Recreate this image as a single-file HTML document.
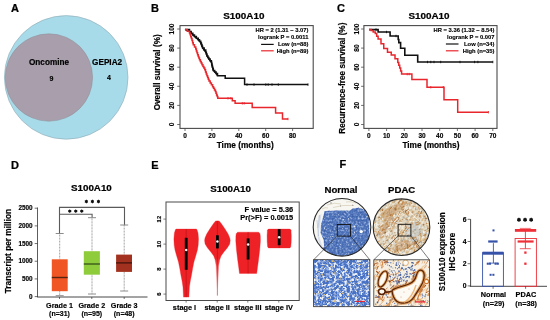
<!DOCTYPE html><html><head><meta charset="utf-8"><style>html,body{margin:0;padding:0;background:#fff;width:550px;height:320px;overflow:hidden}svg{display:block;will-change:transform;font-family:"Liberation Sans",sans-serif}</style></head><body><svg width="550" height="320" viewBox="0 0 550 320" font-family="Liberation Sans, sans-serif">
<rect width="550" height="320" fill="#fff"/>
<text x="11.00" y="12.00" font-size="11" text-anchor="start" font-weight="bold" fill="#000" stroke="#000" stroke-width="0.242" >A</text>
<circle cx="66.2" cy="77.4" r="61.8" fill="#a8dbe9" stroke="#8fa9b3" stroke-width="0.6"/>
<circle cx="48.9" cy="77.5" r="43.7" fill="#a99fac" stroke="#8d8a95" stroke-width="0.5"/>
<text x="49.00" y="64.70" font-size="8.2" text-anchor="middle" font-weight="bold" fill="#000" stroke="#000" stroke-width="0.180" >Oncomine</text>
<text x="51.40" y="80.80" font-size="7" text-anchor="middle" font-weight="bold" fill="#000" stroke="#000" stroke-width="0.154" >9</text>
<text x="107.10" y="65.00" font-size="8.2" text-anchor="middle" font-weight="bold" fill="#000" stroke="#000" stroke-width="0.180" >GEPIA2</text>
<text x="108.90" y="80.40" font-size="7" text-anchor="middle" font-weight="bold" fill="#000" stroke="#000" stroke-width="0.154" >4</text>
<text x="151.00" y="12.00" font-size="11" text-anchor="start" font-weight="bold" fill="#000" stroke="#000" stroke-width="0.242" >B</text>
<text x="243.80" y="19.30" font-size="9.9" text-anchor="middle" font-weight="bold" fill="#000" stroke="#000" stroke-width="0.218" >S100A10</text>
<rect x="180" y="25.6" width="133.2" height="102.80000000000001" fill="none" stroke="#4a4a4a" stroke-width="1.1"/>
<line x1="177.2" y1="124.50" x2="180" y2="124.50" stroke="#4a4a4a" stroke-width="0.8"/>
<text transform="translate(174.40,124.50) rotate(-90)" font-size="6.5" text-anchor="middle" font-weight="bold" fill="#000" stroke="#000" stroke-width="0.143">0</text>
<line x1="177.2" y1="105.40" x2="180" y2="105.40" stroke="#4a4a4a" stroke-width="0.8"/>
<text transform="translate(174.40,105.40) rotate(-90)" font-size="6.5" text-anchor="middle" font-weight="bold" fill="#000" stroke="#000" stroke-width="0.143">20</text>
<line x1="177.2" y1="86.30" x2="180" y2="86.30" stroke="#4a4a4a" stroke-width="0.8"/>
<text transform="translate(174.40,86.30) rotate(-90)" font-size="6.5" text-anchor="middle" font-weight="bold" fill="#000" stroke="#000" stroke-width="0.143">40</text>
<line x1="177.2" y1="67.20" x2="180" y2="67.20" stroke="#4a4a4a" stroke-width="0.8"/>
<text transform="translate(174.40,67.20) rotate(-90)" font-size="6.5" text-anchor="middle" font-weight="bold" fill="#000" stroke="#000" stroke-width="0.143">60</text>
<line x1="177.2" y1="48.10" x2="180" y2="48.10" stroke="#4a4a4a" stroke-width="0.8"/>
<text transform="translate(174.40,48.10) rotate(-90)" font-size="6.5" text-anchor="middle" font-weight="bold" fill="#000" stroke="#000" stroke-width="0.143">80</text>
<line x1="177.2" y1="29.00" x2="180" y2="29.00" stroke="#4a4a4a" stroke-width="0.8"/>
<text transform="translate(174.40,29.00) rotate(-90)" font-size="6.5" text-anchor="middle" font-weight="bold" fill="#000" stroke="#000" stroke-width="0.143">100</text>
<line x1="185.00" y1="128.4" x2="185.00" y2="131.0" stroke="#4a4a4a" stroke-width="0.8"/>
<text x="185.00" y="138.00" font-size="6.5" text-anchor="middle" font-weight="bold" fill="#000" stroke="#000" stroke-width="0.143" >0</text>
<line x1="211.90" y1="128.4" x2="211.90" y2="131.0" stroke="#4a4a4a" stroke-width="0.8"/>
<text x="211.90" y="138.00" font-size="6.5" text-anchor="middle" font-weight="bold" fill="#000" stroke="#000" stroke-width="0.143" >20</text>
<line x1="238.80" y1="128.4" x2="238.80" y2="131.0" stroke="#4a4a4a" stroke-width="0.8"/>
<text x="238.80" y="138.00" font-size="6.5" text-anchor="middle" font-weight="bold" fill="#000" stroke="#000" stroke-width="0.143" >40</text>
<line x1="265.70" y1="128.4" x2="265.70" y2="131.0" stroke="#4a4a4a" stroke-width="0.8"/>
<text x="265.70" y="138.00" font-size="6.5" text-anchor="middle" font-weight="bold" fill="#000" stroke="#000" stroke-width="0.143" >60</text>
<line x1="292.60" y1="128.4" x2="292.60" y2="131.0" stroke="#4a4a4a" stroke-width="0.8"/>
<text x="292.60" y="138.00" font-size="6.5" text-anchor="middle" font-weight="bold" fill="#000" stroke="#000" stroke-width="0.143" >80</text>
<text transform="translate(160.40,72.35) rotate(-90)" font-size="8.2" text-anchor="middle" font-weight="bold" fill="#000" stroke="#000" stroke-width="0.180">Overall survival (%)</text>
<text x="245.20" y="148.20" font-size="8.3" text-anchor="middle" font-weight="bold" fill="#000" stroke="#000" stroke-width="0.183" >Time (months)</text>
<text x="308.40" y="31.80" font-size="5.8" text-anchor="end" font-weight="bold" fill="#000" stroke="#000" stroke-width="0.128" >HR = 2 (1.31 − 3.07)</text>
<text x="308.40" y="38.80" font-size="5.8" text-anchor="end" font-weight="bold" fill="#000" stroke="#000" stroke-width="0.128" >logrank P = 0.0011</text>
<line x1="261.1" y1="44.4" x2="273.7" y2="44.4" stroke="#111" stroke-width="1.2"/>
<text x="308.40" y="45.70" font-size="5.8" text-anchor="end" font-weight="bold" fill="#000" stroke="#000" stroke-width="0.128" >Low (n=88)</text>
<line x1="261.1" y1="50.8" x2="273.7" y2="50.8" stroke="#e8262c" stroke-width="1.2"/>
<text x="308.40" y="52.50" font-size="5.8" text-anchor="end" font-weight="bold" fill="#000" stroke="#000" stroke-width="0.128" >High (n=89)</text>
<path d="M185.00,29.40 L189.50,29.40 L189.50,31.60 L191.17,31.60 L191.17,33.27 L192.83,33.27 L192.83,34.93 L194.50,34.93 L194.50,36.60 L196.38,36.60 L196.38,38.17 L198.25,38.17 L198.25,39.75 L199.50,39.75 L199.50,41.33 L200.75,41.33 L200.75,42.90 L201.37,42.90 L201.37,44.57 L201.98,44.57 L201.98,46.23 L202.60,46.23 L202.60,47.90 L204.18,47.90 L204.18,50.08 L205.75,50.08 L205.75,52.25 L206.38,52.25 L206.38,54.12 L207.00,54.12 L207.00,56.00 L207.95,56.00 L207.95,57.55 L208.90,57.55 L208.90,59.10 L210.15,59.10 L210.15,60.67 L211.40,60.67 L211.40,62.25 L211.70,62.25 L211.70,63.92 L212.00,63.92 L212.00,65.60 L212.43,65.60 L212.43,67.23 L212.87,67.23 L212.87,68.87 L213.30,68.87 L213.30,70.50 L214.70,70.50 L214.70,71.95 L216.10,71.95 L216.10,73.40 L217.50,73.40 L217.50,75.75 L225.20,75.75 L225.20,78.30 L244.60,78.30 L244.60,84.60 L308.00,84.60" fill="none" stroke="#111" stroke-width="1.5" stroke-linejoin="miter"/>
<line x1="247.00" y1="83.40" x2="247.00" y2="85.80" stroke="#111" stroke-width="0.9"/>
<line x1="254.00" y1="83.40" x2="254.00" y2="85.80" stroke="#111" stroke-width="0.9"/>
<line x1="265.80" y1="83.40" x2="265.80" y2="85.80" stroke="#111" stroke-width="0.9"/>
<line x1="268.20" y1="83.40" x2="268.20" y2="85.80" stroke="#111" stroke-width="0.9"/>
<line x1="272.00" y1="83.40" x2="272.00" y2="85.80" stroke="#111" stroke-width="0.9"/>
<line x1="278.30" y1="83.40" x2="278.30" y2="85.80" stroke="#111" stroke-width="0.9"/>
<line x1="308.00" y1="83.40" x2="308.00" y2="85.80" stroke="#111" stroke-width="0.9"/>
<polyline points="185,29.4 189.5,31.6 194.5,36.6 198.25,39.75 200.75,42.9 202.6,47.9 205.75,52.25 207,56 208.9,59.1 211.4,62.25 212,65.6 213.3,70.5 216.1,73.4 217.5,75.75" fill="none" stroke="#111" stroke-width="1.4"/>
<path d="M185.00,29.40 L187.25,29.40 L187.25,31.15 L189.50,31.15 L189.50,32.90 L190.13,32.90 L190.13,34.77 L190.77,34.77 L190.77,36.63 L191.40,36.63 L191.40,38.50 L192.02,38.50 L192.02,40.58 L192.63,40.58 L192.63,42.67 L193.25,42.67 L193.25,44.75 L194.50,44.75 L194.50,46.92 L195.75,46.92 L195.75,49.10 L196.37,49.10 L196.37,50.98 L196.98,50.98 L196.98,52.87 L197.60,52.87 L197.60,54.75 L198.23,54.75 L198.23,56.42 L198.87,56.42 L198.87,58.08 L199.50,58.08 L199.50,59.75 L200.33,59.75 L200.33,61.42 L201.17,61.42 L201.17,63.08 L202.00,63.08 L202.00,64.75 L202.93,64.75 L202.93,66.43 L203.87,66.43 L203.87,68.12 L204.80,68.12 L204.80,69.80 L205.53,69.80 L205.53,71.95 L206.25,71.95 L206.25,74.10 L206.94,74.10 L206.94,75.85 L207.62,75.85 L207.62,77.60 L208.31,77.60 L208.31,79.35 L209.00,79.35 L209.00,81.10 L210.20,81.10 L210.20,82.97 L211.40,82.97 L211.40,84.83 L212.60,84.83 L212.60,86.70 L213.53,86.70 L213.53,88.33 L214.47,88.33 L214.47,89.97 L215.40,89.97 L215.40,91.60 L216.00,91.60 L216.00,93.26 L216.60,93.26 L216.60,94.92 L217.20,94.92 L217.20,96.59 L217.80,96.59 L217.80,98.25 L232.30,98.25 L232.30,100.80 L235.10,100.80 L235.10,103.30 L252.20,103.30 L252.20,107.50 L275.60,107.50 L275.60,112.90 L282.50,112.90 L282.50,119.00 L288.00,119.00" fill="none" stroke="#e8262c" stroke-width="1.5" stroke-linejoin="miter"/>
<line x1="228.00" y1="97.05" x2="228.00" y2="99.45" stroke="#e8262c" stroke-width="0.9"/>
<line x1="230.80" y1="97.05" x2="230.80" y2="99.45" stroke="#e8262c" stroke-width="0.9"/>
<line x1="242.30" y1="102.10" x2="242.30" y2="104.50" stroke="#e8262c" stroke-width="0.9"/>
<line x1="244.20" y1="102.10" x2="244.20" y2="104.50" stroke="#e8262c" stroke-width="0.9"/>
<line x1="288.00" y1="117.80" x2="288.00" y2="120.20" stroke="#e8262c" stroke-width="0.9"/>
<text x="337.00" y="12.00" font-size="11" text-anchor="start" font-weight="bold" fill="#000" stroke="#000" stroke-width="0.242" >C</text>
<text x="429.00" y="19.30" font-size="9.9" text-anchor="middle" font-weight="bold" fill="#000" stroke="#000" stroke-width="0.218" >S100A10</text>
<rect x="363.9" y="25.6" width="133.10000000000002" height="102.80000000000001" fill="none" stroke="#4a4a4a" stroke-width="1.1"/>
<line x1="361.09999999999997" y1="124.50" x2="363.9" y2="124.50" stroke="#4a4a4a" stroke-width="0.8"/>
<text transform="translate(358.60,124.50) rotate(-90)" font-size="6.5" text-anchor="middle" font-weight="bold" fill="#000" stroke="#000" stroke-width="0.143">0</text>
<line x1="361.09999999999997" y1="105.40" x2="363.9" y2="105.40" stroke="#4a4a4a" stroke-width="0.8"/>
<text transform="translate(358.60,105.40) rotate(-90)" font-size="6.5" text-anchor="middle" font-weight="bold" fill="#000" stroke="#000" stroke-width="0.143">20</text>
<line x1="361.09999999999997" y1="86.30" x2="363.9" y2="86.30" stroke="#4a4a4a" stroke-width="0.8"/>
<text transform="translate(358.60,86.30) rotate(-90)" font-size="6.5" text-anchor="middle" font-weight="bold" fill="#000" stroke="#000" stroke-width="0.143">40</text>
<line x1="361.09999999999997" y1="67.20" x2="363.9" y2="67.20" stroke="#4a4a4a" stroke-width="0.8"/>
<text transform="translate(358.60,67.20) rotate(-90)" font-size="6.5" text-anchor="middle" font-weight="bold" fill="#000" stroke="#000" stroke-width="0.143">60</text>
<line x1="361.09999999999997" y1="48.10" x2="363.9" y2="48.10" stroke="#4a4a4a" stroke-width="0.8"/>
<text transform="translate(358.60,48.10) rotate(-90)" font-size="6.5" text-anchor="middle" font-weight="bold" fill="#000" stroke="#000" stroke-width="0.143">80</text>
<line x1="361.09999999999997" y1="29.00" x2="363.9" y2="29.00" stroke="#4a4a4a" stroke-width="0.8"/>
<text transform="translate(358.60,29.00) rotate(-90)" font-size="6.5" text-anchor="middle" font-weight="bold" fill="#000" stroke="#000" stroke-width="0.143">100</text>
<line x1="368.90" y1="128.4" x2="368.90" y2="131.0" stroke="#4a4a4a" stroke-width="0.8"/>
<text x="368.90" y="138.00" font-size="6.5" text-anchor="middle" font-weight="bold" fill="#000" stroke="#000" stroke-width="0.143" >0</text>
<line x1="386.60" y1="128.4" x2="386.60" y2="131.0" stroke="#4a4a4a" stroke-width="0.8"/>
<text x="386.60" y="138.00" font-size="6.5" text-anchor="middle" font-weight="bold" fill="#000" stroke="#000" stroke-width="0.143" >10</text>
<line x1="404.30" y1="128.4" x2="404.30" y2="131.0" stroke="#4a4a4a" stroke-width="0.8"/>
<text x="404.30" y="138.00" font-size="6.5" text-anchor="middle" font-weight="bold" fill="#000" stroke="#000" stroke-width="0.143" >20</text>
<line x1="422.00" y1="128.4" x2="422.00" y2="131.0" stroke="#4a4a4a" stroke-width="0.8"/>
<text x="422.00" y="138.00" font-size="6.5" text-anchor="middle" font-weight="bold" fill="#000" stroke="#000" stroke-width="0.143" >30</text>
<line x1="439.70" y1="128.4" x2="439.70" y2="131.0" stroke="#4a4a4a" stroke-width="0.8"/>
<text x="439.70" y="138.00" font-size="6.5" text-anchor="middle" font-weight="bold" fill="#000" stroke="#000" stroke-width="0.143" >40</text>
<line x1="457.40" y1="128.4" x2="457.40" y2="131.0" stroke="#4a4a4a" stroke-width="0.8"/>
<text x="457.40" y="138.00" font-size="6.5" text-anchor="middle" font-weight="bold" fill="#000" stroke="#000" stroke-width="0.143" >50</text>
<line x1="475.10" y1="128.4" x2="475.10" y2="131.0" stroke="#4a4a4a" stroke-width="0.8"/>
<text x="475.10" y="138.00" font-size="6.5" text-anchor="middle" font-weight="bold" fill="#000" stroke="#000" stroke-width="0.143" >60</text>
<line x1="492.80" y1="128.4" x2="492.80" y2="131.0" stroke="#4a4a4a" stroke-width="0.8"/>
<text x="492.80" y="138.00" font-size="6.5" text-anchor="middle" font-weight="bold" fill="#000" stroke="#000" stroke-width="0.143" >70</text>
<text transform="translate(344.80,78.15) rotate(-90)" font-size="8.2" text-anchor="middle" font-weight="bold" fill="#000" stroke="#000" stroke-width="0.180">Recurrence-free survival (%)</text>
<text x="430.90" y="148.20" font-size="8.3" text-anchor="middle" font-weight="bold" fill="#000" stroke="#000" stroke-width="0.183" >Time (months)</text>
<text x="494.50" y="31.80" font-size="5.8" text-anchor="end" font-weight="bold" fill="#000" stroke="#000" stroke-width="0.128" >HR = 3.36 (1.32 − 8.54)</text>
<text x="494.50" y="38.80" font-size="5.8" text-anchor="end" font-weight="bold" fill="#000" stroke="#000" stroke-width="0.128" >logrank P = 0.007</text>
<line x1="445.9" y1="44" x2="458.5" y2="44" stroke="#111" stroke-width="1.2"/>
<text x="494.50" y="45.50" font-size="5.8" text-anchor="end" font-weight="bold" fill="#000" stroke="#000" stroke-width="0.128" >Low (n=34)</text>
<line x1="445.9" y1="50.8" x2="458.5" y2="50.8" stroke="#e8262c" stroke-width="1.2"/>
<text x="494.50" y="52.50" font-size="5.8" text-anchor="end" font-weight="bold" fill="#000" stroke="#000" stroke-width="0.128" >High (n=35)</text>
<path d="M369.00,29.60 L378.10,29.60 L378.10,32.00 L390.10,32.00 L390.10,36.00 L398.20,36.00 L398.20,39.50 L398.80,39.50 L398.80,42.60 L400.60,42.60 L400.60,48.20 L404.80,48.20 L404.80,55.20 L417.70,55.20 L417.70,62.00 L492.80,62.00" fill="none" stroke="#111" stroke-width="1.6" stroke-linejoin="miter"/>
<line x1="376.00" y1="28.40" x2="376.00" y2="30.80" stroke="#111" stroke-width="0.9"/>
<line x1="386.50" y1="30.80" x2="386.50" y2="33.20" stroke="#111" stroke-width="0.9"/>
<line x1="396.00" y1="34.80" x2="396.00" y2="37.20" stroke="#111" stroke-width="0.9"/>
<line x1="427.50" y1="60.80" x2="427.50" y2="63.20" stroke="#111" stroke-width="0.9"/>
<line x1="430.80" y1="60.80" x2="430.80" y2="63.20" stroke="#111" stroke-width="0.9"/>
<line x1="434.00" y1="60.80" x2="434.00" y2="63.20" stroke="#111" stroke-width="0.9"/>
<line x1="440.70" y1="60.80" x2="440.70" y2="63.20" stroke="#111" stroke-width="0.9"/>
<line x1="460.00" y1="60.80" x2="460.00" y2="63.20" stroke="#111" stroke-width="0.9"/>
<line x1="474.60" y1="60.80" x2="474.60" y2="63.20" stroke="#111" stroke-width="0.9"/>
<line x1="477.90" y1="60.80" x2="477.90" y2="63.20" stroke="#111" stroke-width="0.9"/>
<line x1="492.80" y1="60.80" x2="492.80" y2="63.20" stroke="#111" stroke-width="0.9"/>
<path d="M369.00,29.60 L371.20,29.60 L371.20,30.60 L373.20,30.60 L373.20,32.00 L375.30,32.00 L375.30,33.40 L376.70,33.40 L376.70,36.25 L378.10,36.25 L378.10,39.10 L381.00,39.10 L381.00,43.75 L383.75,43.75 L383.75,48.40 L387.50,48.40 L387.50,52.20 L391.25,52.20 L391.25,55.00 L395.00,55.00 L395.00,58.75 L397.80,58.75 L397.80,62.50 L398.75,62.50 L398.75,65.30 L399.70,65.30 L399.70,68.10 L400.65,68.10 L400.65,71.10 L401.60,71.10 L401.60,74.10 L411.90,74.10 L411.90,79.60 L427.00,79.60 L427.00,87.20 L444.00,87.20 L444.00,99.70 L457.70,99.70 L457.70,112.20 L488.40,112.20" fill="none" stroke="#e8262c" stroke-width="1.5" stroke-linejoin="miter"/>
<line x1="407.20" y1="72.90" x2="407.20" y2="75.30" stroke="#e8262c" stroke-width="0.9"/>
<line x1="409.20" y1="72.90" x2="409.20" y2="75.30" stroke="#e8262c" stroke-width="0.9"/>
<line x1="430.80" y1="86.00" x2="430.80" y2="88.40" stroke="#e8262c" stroke-width="0.9"/>
<line x1="443.30" y1="86.00" x2="443.30" y2="88.40" stroke="#e8262c" stroke-width="0.9"/>
<line x1="488.40" y1="111.00" x2="488.40" y2="113.40" stroke="#e8262c" stroke-width="0.9"/>
<text x="11.00" y="169.20" font-size="11" text-anchor="start" font-weight="bold" fill="#000" stroke="#000" stroke-width="0.242" >D</text>
<text x="91.40" y="190.90" font-size="9.8" text-anchor="middle" font-weight="bold" fill="#000" stroke="#000" stroke-width="0.216" >S100A10</text>
<line x1="37.5" y1="207.5" x2="37.5" y2="297" stroke="#333" stroke-width="0.8"/>
<line x1="37.1" y1="297" x2="147.5" y2="297" stroke="#333" stroke-width="0.9"/>
<line x1="34.7" y1="296.60" x2="37.5" y2="296.60" stroke="#333" stroke-width="0.7"/>
<text x="32.60" y="298.80" font-size="6.4" text-anchor="end" font-weight="bold" fill="#000" stroke="#000" stroke-width="0.141" >0</text>
<line x1="34.7" y1="278.92" x2="37.5" y2="278.92" stroke="#333" stroke-width="0.7"/>
<text x="32.60" y="281.12" font-size="6.4" text-anchor="end" font-weight="bold" fill="#000" stroke="#000" stroke-width="0.141" >500</text>
<line x1="34.7" y1="261.24" x2="37.5" y2="261.24" stroke="#333" stroke-width="0.7"/>
<text x="32.60" y="263.44" font-size="6.4" text-anchor="end" font-weight="bold" fill="#000" stroke="#000" stroke-width="0.141" >1000</text>
<line x1="34.7" y1="243.56" x2="37.5" y2="243.56" stroke="#333" stroke-width="0.7"/>
<text x="32.60" y="245.76" font-size="6.4" text-anchor="end" font-weight="bold" fill="#000" stroke="#000" stroke-width="0.141" >1500</text>
<line x1="34.7" y1="225.88" x2="37.5" y2="225.88" stroke="#333" stroke-width="0.7"/>
<text x="32.60" y="228.08" font-size="6.4" text-anchor="end" font-weight="bold" fill="#000" stroke="#000" stroke-width="0.141" >2000</text>
<line x1="34.7" y1="208.20" x2="37.5" y2="208.20" stroke="#333" stroke-width="0.7"/>
<text x="32.60" y="210.40" font-size="6.4" text-anchor="end" font-weight="bold" fill="#000" stroke="#000" stroke-width="0.141" >2500</text>
<text transform="translate(10.60,251.10) rotate(-90)" font-size="8.3" text-anchor="middle" font-weight="bold" fill="#000" stroke="#000" stroke-width="0.183">Transcript per million</text>
<line x1="59.7" y1="233.5" x2="59.7" y2="259.3" stroke="#8a8a8a" stroke-width="0.9" stroke-dasharray="0.9,0.6"/>
<line x1="59.7" y1="291.2" x2="59.7" y2="295.7" stroke="#8a8a8a" stroke-width="0.9" stroke-dasharray="0.9,0.6"/>
<line x1="55.7" y1="233.5" x2="63.7" y2="233.5" stroke="#8c8c8c" stroke-width="1.0"/>
<line x1="55.7" y1="295.7" x2="63.7" y2="295.7" stroke="#8c8c8c" stroke-width="1.0"/>
<rect x="51.8" y="259.3" width="15.900000000000006" height="31.899999999999977" fill="#ef5623"/>
<line x1="51.8" y1="277.5" x2="67.7" y2="277.5" stroke="#5a2510" stroke-width="1.4"/>
<line x1="92.0" y1="217.7" x2="92.0" y2="251.2" stroke="#8a8a8a" stroke-width="0.9" stroke-dasharray="0.9,0.6"/>
<line x1="92.0" y1="274.7" x2="92.0" y2="294.0" stroke="#8a8a8a" stroke-width="0.9" stroke-dasharray="0.9,0.6"/>
<line x1="88.0" y1="217.7" x2="96.0" y2="217.7" stroke="#8c8c8c" stroke-width="1.0"/>
<line x1="88.0" y1="294.0" x2="96.0" y2="294.0" stroke="#8c8c8c" stroke-width="1.0"/>
<rect x="83.8" y="251.2" width="16.10000000000001" height="23.5" fill="#8fcc3c"/>
<line x1="83.8" y1="264.0" x2="99.9" y2="264.0" stroke="#3c5a1c" stroke-width="1.4"/>
<line x1="124.2" y1="225.0" x2="124.2" y2="254.6" stroke="#8a8a8a" stroke-width="0.9" stroke-dasharray="0.9,0.6"/>
<line x1="124.2" y1="271.9" x2="124.2" y2="291.0" stroke="#8a8a8a" stroke-width="0.9" stroke-dasharray="0.9,0.6"/>
<line x1="120.2" y1="225.0" x2="128.2" y2="225.0" stroke="#8c8c8c" stroke-width="1.0"/>
<line x1="120.2" y1="291.0" x2="128.2" y2="291.0" stroke="#8c8c8c" stroke-width="1.0"/>
<rect x="116.1" y="254.6" width="15.900000000000006" height="17.299999999999983" fill="#a2321f"/>
<line x1="116.1" y1="262.9" x2="132.0" y2="262.9" stroke="#4a140c" stroke-width="1.4"/>
<polyline points="59.5,233.2 59.5,214.3 92.1,214.3 92.1,217.2" fill="none" stroke="#5a5a5a" stroke-width="1.1"/>
<polyline points="59.5,214.3 59.5,207.4 124.5,207.4 124.5,224.8" fill="none" stroke="#5a5a5a" stroke-width="1.1"/>
<polygon points="69.75,209.16 70.45,209.89 71.43,210.13 71.14,211.10 71.43,212.07 70.45,212.31 69.75,213.04 69.05,212.31 68.07,212.07 68.36,211.10 68.07,210.13 69.05,209.89" fill="#111"/>
<polygon points="75.75,209.16 76.45,209.89 77.43,210.13 77.14,211.10 77.43,212.07 76.45,212.31 75.75,213.04 75.05,212.31 74.07,212.07 74.36,211.10 74.07,210.13 75.05,209.89" fill="#111"/>
<polygon points="81.75,209.16 82.45,209.89 83.43,210.13 83.14,211.10 83.43,212.07 82.45,212.31 81.75,213.04 81.05,212.31 80.07,212.07 80.36,211.10 80.07,210.13 81.05,209.89" fill="#111"/>
<polygon points="86.35,199.56 87.05,200.29 88.03,200.53 87.74,201.50 88.03,202.47 87.05,202.71 86.35,203.44 85.65,202.71 84.67,202.47 84.95,201.50 84.67,200.53 85.65,200.29" fill="#111"/>
<polygon points="92.40,199.56 93.10,200.29 94.08,200.53 93.79,201.50 94.08,202.47 93.10,202.71 92.40,203.44 91.70,202.71 90.72,202.47 91.00,201.50 90.72,200.53 91.70,200.29" fill="#111"/>
<polygon points="98.45,199.56 99.15,200.29 100.13,200.53 99.84,201.50 100.13,202.47 99.15,202.71 98.45,203.44 97.75,202.71 96.77,202.47 97.06,201.50 96.77,200.53 97.75,200.29" fill="#111"/>
<line x1="59.5" y1="297" x2="59.5" y2="299" stroke="#333" stroke-width="0.7"/>
<text x="59.50" y="307.80" font-size="7.2" text-anchor="middle" font-weight="bold" fill="#000" stroke="#000" stroke-width="0.158" >Grade 1</text>
<text x="59.50" y="316.30" font-size="7.0" text-anchor="middle" font-weight="bold" fill="#000" stroke="#000" stroke-width="0.154" >(n=31)</text>
<line x1="91.8" y1="297" x2="91.8" y2="299" stroke="#333" stroke-width="0.7"/>
<text x="91.80" y="307.80" font-size="7.2" text-anchor="middle" font-weight="bold" fill="#000" stroke="#000" stroke-width="0.158" >Grade 2</text>
<text x="91.80" y="316.30" font-size="7.0" text-anchor="middle" font-weight="bold" fill="#000" stroke="#000" stroke-width="0.154" >(n=95)</text>
<line x1="124.2" y1="297" x2="124.2" y2="299" stroke="#333" stroke-width="0.7"/>
<text x="124.20" y="307.80" font-size="7.2" text-anchor="middle" font-weight="bold" fill="#000" stroke="#000" stroke-width="0.158" >Grade 3</text>
<text x="124.20" y="316.30" font-size="7.0" text-anchor="middle" font-weight="bold" fill="#000" stroke="#000" stroke-width="0.154" >(n=48)</text>
<text x="151.20" y="168.80" font-size="11" text-anchor="start" font-weight="bold" fill="#000" stroke="#000" stroke-width="0.242" >E</text>
<text x="230.60" y="191.70" font-size="9.8" text-anchor="middle" font-weight="bold" fill="#000" stroke="#000" stroke-width="0.216" >S100A10</text>
<rect x="166" y="202" width="133.2" height="98.5" fill="none" stroke="#4a4a4a" stroke-width="1.0"/>
<line x1="163.4" y1="294.10" x2="166" y2="294.10" stroke="#4a4a4a" stroke-width="0.7"/>
<text transform="translate(161.10,294.10) rotate(-90)" font-size="5.9" text-anchor="middle" font-weight="bold" fill="#000" stroke="#000" stroke-width="0.130">6</text>
<line x1="163.4" y1="269.10" x2="166" y2="269.10" stroke="#4a4a4a" stroke-width="0.7"/>
<text transform="translate(161.10,269.10) rotate(-90)" font-size="5.9" text-anchor="middle" font-weight="bold" fill="#000" stroke="#000" stroke-width="0.130">8</text>
<line x1="163.4" y1="244.10" x2="166" y2="244.10" stroke="#4a4a4a" stroke-width="0.7"/>
<text transform="translate(161.10,244.10) rotate(-90)" font-size="5.9" text-anchor="middle" font-weight="bold" fill="#000" stroke="#000" stroke-width="0.130">10</text>
<line x1="163.4" y1="219.10" x2="166" y2="219.10" stroke="#4a4a4a" stroke-width="0.7"/>
<text transform="translate(161.10,219.10) rotate(-90)" font-size="5.9" text-anchor="middle" font-weight="bold" fill="#000" stroke="#000" stroke-width="0.130">12</text>
<text x="293.20" y="211.60" font-size="7.45" text-anchor="end" font-weight="bold" fill="#000" stroke="#000" stroke-width="0.164" >F value = 5.36</text>
<text x="293.20" y="219.90" font-size="7.45" text-anchor="end" font-weight="bold" fill="#000" stroke="#000" stroke-width="0.164" >Pr(&gt;F) = 0.0015</text>
<path d="M176.20,229.10 L175.50,229.50 L174.40,233.00 L173.90,239.00 L174.20,245.00 L175.00,250.00 L176.70,256.00 L178.50,262.00 L179.70,268.00 L180.90,275.00 L182.10,281.00 L183.00,287.00 L183.50,297.10 L188.90,297.10 L189.40,287.00 L190.30,281.00 L191.50,275.00 L192.70,268.00 L193.90,262.00 L195.70,256.00 L197.40,250.00 L198.20,245.00 L198.50,239.00 L198.00,233.00 L196.90,229.50 L196.20,229.10Z" fill="#ee2126" stroke="#ee2126" stroke-width="0.35"/>
<line x1="186.2" y1="229.1" x2="186.2" y2="297.1" stroke="#a01010" stroke-width="0.5"/>
<rect x="184.79999999999998" y="237.8" width="2.8" height="32.0" fill="#000"/>
<circle cx="186.2" cy="249.9" r="1.25" fill="#fff"/>
<defs><linearGradient id="g2" gradientUnits="userSpaceOnUse" x1="0" y1="258" x2="0" y2="290"><stop offset="0" stop-color="#ee2126"/><stop offset="1" stop-color="#ee2126" stop-opacity="0.05"/></linearGradient></defs>
<path d="M215.60,220.90 L213.20,224.00 L209.80,229.00 L206.70,234.00 L205.00,238.00 L204.60,240.50 L205.10,244.00 L207.60,248.00 L210.90,252.00 L213.80,256.00 L215.20,260.00 L216.20,266.00 L216.70,280.00 L216.95,295.60 L217.85,295.60 L218.10,280.00 L218.60,266.00 L219.60,260.00 L221.00,256.00 L223.90,252.00 L227.20,248.00 L229.70,244.00 L230.20,240.50 L229.80,238.00 L228.10,234.00 L225.00,229.00 L221.60,224.00 L219.20,220.90Z" fill="url(#g2)" stroke="url(#g2)" stroke-width="0.35"/>
<line x1="217.4" y1="220.9" x2="217.4" y2="295.6" stroke="#a01010" stroke-width="0.5"/>
<rect x="216.0" y="235.3" width="2.8" height="13.099999999999994" fill="#000"/>
<circle cx="217.4" cy="241.5" r="1.25" fill="#fff"/>
<path d="M237.60,232.20 L236.30,233.50 L235.90,236.00 L235.80,241.00 L236.50,250.00 L237.70,260.00 L238.80,268.00 L239.50,273.40 L256.70,273.40 L257.40,268.00 L258.50,260.00 L259.70,250.00 L260.40,241.00 L260.30,236.00 L259.90,233.50 L258.60,232.20Z" fill="#ee2126" stroke="#ee2126" stroke-width="0.35"/>
<line x1="248.1" y1="232.2" x2="248.1" y2="273.4" stroke="#a01010" stroke-width="0.5"/>
<rect x="246.7" y="238.4" width="2.8" height="21.099999999999994" fill="#000"/>
<circle cx="248.1" cy="244.5" r="1.25" fill="#fff"/>
<path d="M268.30,229.10 L267.40,230.20 L267.10,236.00 L267.20,242.00 L267.60,246.50 L268.40,247.90 L290.00,247.90 L290.80,246.50 L291.20,242.00 L291.30,236.00 L291.00,230.20 L290.10,229.10Z" fill="#ee2126" stroke="#ee2126" stroke-width="0.35"/>
<line x1="279.2" y1="229.1" x2="279.2" y2="247.9" stroke="#a01010" stroke-width="0.5"/>
<rect x="277.8" y="229.2" width="2.8" height="16.0" fill="#000"/>
<circle cx="279.2" cy="237.2" r="1.25" fill="#fff"/>
<line x1="186.1" y1="300.5" x2="186.1" y2="302.6" stroke="#4a4a4a" stroke-width="0.7"/>
<text x="184.50" y="310.30" font-size="7.35" text-anchor="middle" font-weight="bold" fill="#000" stroke="#000" stroke-width="0.162" >stage I</text>
<line x1="217.2" y1="300.5" x2="217.2" y2="302.6" stroke="#4a4a4a" stroke-width="0.7"/>
<text x="217.20" y="310.30" font-size="7.35" text-anchor="middle" font-weight="bold" fill="#000" stroke="#000" stroke-width="0.162" >stage II</text>
<line x1="247.8" y1="300.5" x2="247.8" y2="302.6" stroke="#4a4a4a" stroke-width="0.7"/>
<text x="247.80" y="310.30" font-size="7.35" text-anchor="middle" font-weight="bold" fill="#000" stroke="#000" stroke-width="0.162" >stage III</text>
<line x1="278.8" y1="300.5" x2="278.8" y2="302.6" stroke="#4a4a4a" stroke-width="0.7"/>
<text x="278.80" y="310.30" font-size="7.35" text-anchor="middle" font-weight="bold" fill="#000" stroke="#000" stroke-width="0.162" >stage IV</text>
<text x="339.60" y="167.60" font-size="11" text-anchor="start" font-weight="bold" fill="#000" stroke="#000" stroke-width="0.242" >F</text>
<text x="341.00" y="192.80" font-size="9.6" text-anchor="middle" font-weight="bold" fill="#000" stroke="#000" stroke-width="0.211" >Normal</text>
<text x="401.70" y="193.00" font-size="9.6" text-anchor="middle" font-weight="bold" fill="#000" stroke="#000" stroke-width="0.211" >PDAC</text>
<line x1="470.6" y1="219.2" x2="470.6" y2="286.3" stroke="#333" stroke-width="0.9"/>
<line x1="469.8" y1="286.3" x2="547" y2="286.3" stroke="#333" stroke-width="0.9"/>
<line x1="467.6" y1="285.90" x2="470.6" y2="285.90" stroke="#333" stroke-width="0.7"/>
<text x="464.60" y="288.30" font-size="6.8" text-anchor="middle" font-weight="bold" fill="#000" stroke="#000" stroke-width="0.150" >0</text>
<line x1="467.6" y1="263.70" x2="470.6" y2="263.70" stroke="#333" stroke-width="0.7"/>
<text x="464.60" y="266.10" font-size="6.8" text-anchor="middle" font-weight="bold" fill="#000" stroke="#000" stroke-width="0.150" >2</text>
<line x1="467.6" y1="241.50" x2="470.6" y2="241.50" stroke="#333" stroke-width="0.7"/>
<text x="464.60" y="243.90" font-size="6.8" text-anchor="middle" font-weight="bold" fill="#000" stroke="#000" stroke-width="0.150" >4</text>
<line x1="467.6" y1="219.30" x2="470.6" y2="219.30" stroke="#333" stroke-width="0.7"/>
<text x="464.60" y="221.70" font-size="6.8" text-anchor="middle" font-weight="bold" fill="#000" stroke="#000" stroke-width="0.150" >6</text>
<text transform="translate(445.40,251.75) rotate(-90)" font-size="8.15" text-anchor="middle" font-weight="bold" fill="#000" stroke="#000" stroke-width="0.179">S100A10 expression</text>
<text transform="translate(455.20,251.75) rotate(-90)" font-size="8.15" text-anchor="middle" font-weight="bold" fill="#000" stroke="#000" stroke-width="0.179">IHC score</text>
<rect x="482.6" y="252.60" width="20.8" height="33.70" fill="none" stroke="#3552a8" stroke-width="0.9"/>
<rect x="515.1" y="238.50" width="21.3" height="47.80" fill="none" stroke="#ee3038" stroke-width="0.9"/>
<line x1="493.4" y1="243.16" x2="493.4" y2="263.14" stroke="#3552a8" stroke-width="0.9"/>
<line x1="489" y1="263.14" x2="498" y2="263.14" stroke="#3552a8" stroke-width="0.8"/>
<line x1="525.4" y1="229.29" x2="525.4" y2="248.71" stroke="#ee3038" stroke-width="0.9"/>
<line x1="519.8" y1="228.40" x2="530.8" y2="228.40" stroke="#ee3038" stroke-width="0.7"/>
<line x1="519.8" y1="248.71" x2="530.8" y2="248.71" stroke="#ee3038" stroke-width="0.8"/>
<rect x="492.50" y="229.40" width="2.0" height="2.0" fill="#3552a8"/>
<rect x="488.2" y="240.40" width="9.400000000000034" height="2.2" fill="#3552a8"/>
<rect x="482.6" y="251.70" width="20.799999999999955" height="3.0" fill="#3552a8"/>
<rect x="486.75" y="262.65" width="2.1" height="2.1" fill="#3552a8"/>
<rect x="488.95" y="262.65" width="2.1" height="2.1" fill="#3552a8"/>
<rect x="494.55" y="262.65" width="2.1" height="2.1" fill="#3552a8"/>
<rect x="496.75" y="262.65" width="2.1" height="2.1" fill="#3552a8"/>
<rect x="489.60" y="273.80" width="2.0" height="2.0" fill="#3552a8"/>
<rect x="492.40" y="273.80" width="2.0" height="2.0" fill="#3552a8"/>
<rect x="514.9" y="229.00" width="21.300000000000068" height="2.8" fill="#ee3038"/>
<rect x="517.6" y="240.40" width="16.0" height="2.2" fill="#ee3038"/>
<rect x="524.25" y="251.45" width="2.3" height="2.3" fill="#ee3038"/>
<rect x="524.25" y="262.55" width="2.3" height="2.3" fill="#ee3038"/>
<polygon points="518.95,217.49 519.78,218.36 520.95,218.64 520.62,219.80 520.95,220.96 519.78,221.24 518.95,222.11 518.12,221.24 516.95,220.96 517.29,219.80 516.95,218.64 518.12,218.36" fill="#111"/>
<polygon points="525.05,217.49 525.88,218.36 527.05,218.64 526.72,219.80 527.05,220.96 525.88,221.24 525.05,222.11 524.22,221.24 523.05,220.96 523.39,219.80 523.05,218.64 524.22,218.36" fill="#111"/>
<polygon points="531.15,217.49 531.98,218.36 533.15,218.64 532.81,219.80 533.15,220.96 531.98,221.24 531.15,222.11 530.32,221.24 529.15,220.96 529.49,219.80 529.15,218.64 530.32,218.36" fill="#111"/>
<line x1="493.1" y1="286.3" x2="493.1" y2="288.8" stroke="#333" stroke-width="0.7"/>
<text x="493.40" y="297.40" font-size="7.3" text-anchor="middle" font-weight="bold" fill="#000" stroke="#000" stroke-width="0.161" >Normal</text>
<text x="493.70" y="306.00" font-size="7.3" text-anchor="middle" font-weight="bold" fill="#000" stroke="#000" stroke-width="0.161" >(n=29)</text>
<line x1="525.6" y1="286.3" x2="525.6" y2="288.8" stroke="#333" stroke-width="0.7"/>
<text x="525.90" y="297.40" font-size="7.3" text-anchor="middle" font-weight="bold" fill="#000" stroke="#000" stroke-width="0.161" >PDAC</text>
<text x="526.20" y="306.00" font-size="7.3" text-anchor="middle" font-weight="bold" fill="#000" stroke="#000" stroke-width="0.161" >(n=38)</text>
<defs>
<clipPath id="cN"><circle cx="342" cy="227.3" r="28.8"/></clipPath>
<clipPath id="cP"><circle cx="401.5" cy="227.2" r="28.3"/></clipPath>
<clipPath id="zP"><rect x="373.8" y="259.8" width="55.7" height="46.6"/></clipPath>
<filter id="fspeck" x="0" y="0" width="1" height="1" color-interpolation-filters="sRGB">
  <feTurbulence type="fractalNoise" baseFrequency="0.38" numOctaves="2" seed="4" result="n"/>
  <feColorMatrix in="n" type="matrix" values="0 0 0 0 0.6  0 0 0 0 0.7  0 0 0 0 0.9  0 0 5 0 -2.4" result="l"/>
  <feColorMatrix in="n" type="matrix" values="0 0 0 0 0.92  0 0 0 0 0.94  0 0 0 0 0.97  6 0 0 0 -3.0" result="w"/>
  <feColorMatrix in="n" type="matrix" values="0 0 0 0 0.85  0 0 0 0 0.74  0 0 0 0 0.5  0 7 0 0 -4.5" result="o"/>
  <feMerge result="m"><feMergeNode in="SourceGraphic"/><feMergeNode in="l"/><feMergeNode in="w"/><feMergeNode in="o"/></feMerge>
  <feGaussianBlur in="m" stdDeviation="0.35"/>
</filter>
<filter id="fspeck2" x="0" y="0" width="1" height="1" color-interpolation-filters="sRGB">
  <feTurbulence type="fractalNoise" baseFrequency="0.5" numOctaves="3" seed="5" result="n"/>
  <feColorMatrix in="n" type="matrix" values="0 0 0 0 0.55  0 0 0 0 0.66  0 0 0 0 0.86  4 0 0 0 -1.8" result="l"/>
  <feColorMatrix in="n" type="matrix" values="0 0 0 0 0.24  0 0 0 0 0.38  0 0 0 0 0.66  0 4 0 0 -2.0" result="d"/>
  <feColorMatrix in="n" type="matrix" values="0 0 0 0 0.85  0 0 0 0 0.9  0 0 0 0 0.96  0 0 7 0 -4.8" result="w"/>
  <feMerge result="m"><feMergeNode in="SourceGraphic"/><feMergeNode in="l"/><feMergeNode in="d"/><feMergeNode in="w"/></feMerge>
  <feComposite in="m" in2="SourceAlpha" operator="in"/>
</filter>
<filter id="fmottle" x="0" y="0" width="1" height="1" color-interpolation-filters="sRGB">
  <feTurbulence type="fractalNoise" baseFrequency="0.32 0.62" numOctaves="3" seed="9" result="n"/>
  <feTurbulence type="fractalNoise" baseFrequency="0.5" numOctaves="2" seed="3" result="n2"/>
  <feColorMatrix in="n" type="matrix" values="0 0 0 0 0.8  0 0 0 0 0.62  0 0 0 0 0.38  5 0 0 0 -2.6" result="o"/>
  <feColorMatrix in="n" type="matrix" values="0 0 0 0 0.6  0 0 0 0 0.38  0 0 0 0 0.16  0 6 0 0 -3.6" result="d"/>
  <feColorMatrix in="n2" type="matrix" values="0 0 0 0 0.64  0 0 0 0 0.7  0 0 0 0 0.74  6 0 0 0 -3.6" result="b"/>
  <feColorMatrix in="n" type="matrix" values="0 0 0 0 0.97  0 0 0 0 0.96  0 0 0 0 0.93  0 0 6 0 -3.2" result="w"/>
  <feMerge><feMergeNode in="SourceGraphic"/><feMergeNode in="o"/><feMergeNode in="b"/><feMergeNode in="d"/><feMergeNode in="w"/></feMerge>
</filter>
<filter id="fmottle2" x="0" y="0" width="1" height="1" color-interpolation-filters="sRGB">
  <feTurbulence type="fractalNoise" baseFrequency="0.3 0.55" numOctaves="2" seed="21" result="n"/>
  <feColorMatrix in="n" type="matrix" values="0 0 0 0 0.82  0 0 0 0 0.5  0 0 0 0 0.18  5 0 0 0 -2.7" result="o"/>
  <feColorMatrix in="n" type="matrix" values="0 0 0 0 0.35  0 0 0 0 0.5  0 0 0 0 0.78  0 0 6 0 -3.6" result="b"/>
  <feMerge><feMergeNode in="SourceGraphic"/><feMergeNode in="o"/><feMergeNode in="b"/></feMerge>
</filter>
</defs>
<g clip-path="url(#cN)">
<rect x="313" y="198" width="58" height="59" fill="#f7f6f1"/>
<path d="M324.5,211 L336,210.2 L349.5,210.4 L352.5,208.5 L358.75,207.5 L365,210 L368.5,214 L369.5,222 L369.2,240 L372,258 L312,258 L312,252 L318,250 L324,247 L323.5,240 L320.5,233 L320.75,224.75 L322.6,218.5 Z" fill="#4c70b8" filter="url(#fspeck2)"/>
<path d="M318.5,216 L321.5,214 L320,225 L318.5,234 L322.5,247 L320,248 L317.5,236 L318.5,226 Z" fill="#b8c8e4" opacity="0.45"/>
<path d="M317,220 L318.5,236 M319.5,215 L318,228 M316,238 L319,246" stroke="#8aa2d0" stroke-width="0.6" fill="none" opacity="0.7"/>
<circle cx="361.25" cy="231.6" r="1.7" fill="#fff"/><circle cx="354.4" cy="226.6" r="1" fill="#eef3f8"/><circle cx="343.5" cy="219.8" r="0.8" fill="#d8e4f0"/>
<path d="M327,205 q8,-3 14,-1 M333,207.5 q10,-3 20,-2 M346,202 q6,-1 10,1 M322,209 q3,-2 6,-1" stroke="#d0c6a8" stroke-width="0.6" fill="none"/>
<path d="M330,203 l2,0 M352,205 l1.5,0.5 M340,206 l1,0" stroke="#555" stroke-width="0.5"/>
</g>
<circle cx="342" cy="227.3" r="28.8" fill="none" stroke="#2a2a2a" stroke-width="1.1"/>
<g clip-path="url(#cP)">
<g transform="rotate(-35 401.5 227.2)"><rect x="360" y="186" width="84" height="84" fill="#e2d8c2" filter="url(#fmottle)"/></g>
<ellipse cx="414" cy="232" rx="9" ry="10" fill="#a8b8c4" opacity="0.35"/>
<path d="M380,215 C388,206 398,202 410,203 C404,208 395,212 386,222 Z" fill="#b06a24" opacity="0.35"/>
<path d="M378,232 C382,224 388,218 394,214 C392,222 386,230 381,240 Z" fill="#a86020" opacity="0.3"/>
<path d="M395,245 C400,240 408,238 414,244 C408,248 400,252 394,253 Z" fill="#a86020" opacity="0.3"/>
<path d="M386,236 L400,214 M390,244 L404,226 M408,210 L420,222" stroke="#f6f2ea" stroke-width="1" opacity="0.7"/>
<line x1="375.9" y1="225.8" x2="377.2" y2="221.6" stroke="#f8f4ec" stroke-width="0.87" opacity="0.61" stroke-linecap="round"/>
<line x1="411.7" y1="220.6" x2="415.6" y2="219.9" stroke="#d8a868" stroke-width="0.73" opacity="0.70" stroke-linecap="round"/>
<line x1="392.7" y1="251.8" x2="389.1" y2="249.5" stroke="#b06a28" stroke-width="0.67" opacity="0.82" stroke-linecap="round"/>
<line x1="408.6" y1="252.0" x2="411.7" y2="252.1" stroke="#f8f4ec" stroke-width="0.71" opacity="0.72" stroke-linecap="round"/>
<line x1="416.8" y1="212.1" x2="419.3" y2="212.2" stroke="#d8a868" stroke-width="0.92" opacity="0.74" stroke-linecap="round"/>
<line x1="392.8" y1="211.5" x2="395.5" y2="210.2" stroke="#c88848" stroke-width="0.61" opacity="0.65" stroke-linecap="round"/>
<line x1="423.4" y1="235.6" x2="425.6" y2="234.3" stroke="#b06a28" stroke-width="1.03" opacity="0.60" stroke-linecap="round"/>
<line x1="375.2" y1="219.0" x2="376.4" y2="216.2" stroke="#c88848" stroke-width="0.63" opacity="0.53" stroke-linecap="round"/>
<line x1="398.7" y1="252.8" x2="396.5" y2="249.4" stroke="#c88848" stroke-width="0.93" opacity="0.87" stroke-linecap="round"/>
<line x1="394.1" y1="243.9" x2="395.3" y2="239.8" stroke="#f8f4ec" stroke-width="0.99" opacity="0.63" stroke-linecap="round"/>
<line x1="427.6" y1="236.6" x2="428.3" y2="235.2" stroke="#b06a28" stroke-width="0.96" opacity="0.62" stroke-linecap="round"/>
<line x1="426.4" y1="241.9" x2="426.1" y2="237.7" stroke="#b06a28" stroke-width="0.91" opacity="0.71" stroke-linecap="round"/>
<line x1="411.9" y1="242.3" x2="416.2" y2="241.9" stroke="#9a5a20" stroke-width="0.70" opacity="0.60" stroke-linecap="round"/>
<line x1="406.5" y1="235.7" x2="407.3" y2="233.8" stroke="#f8f4ec" stroke-width="0.75" opacity="0.86" stroke-linecap="round"/>
<line x1="395.4" y1="242.6" x2="395.0" y2="240.7" stroke="#c88848" stroke-width="1.02" opacity="0.76" stroke-linecap="round"/>
<line x1="394.5" y1="232.1" x2="395.9" y2="231.0" stroke="#f8f4ec" stroke-width="1.09" opacity="0.59" stroke-linecap="round"/>
<line x1="420.1" y1="221.7" x2="424.0" y2="221.6" stroke="#f8f4ec" stroke-width="0.80" opacity="0.69" stroke-linecap="round"/>
<line x1="381.5" y1="221.4" x2="383.6" y2="219.6" stroke="#d8a868" stroke-width="0.98" opacity="0.59" stroke-linecap="round"/>
<line x1="395.2" y1="238.5" x2="397.7" y2="238.0" stroke="#f8f4ec" stroke-width="0.86" opacity="0.52" stroke-linecap="round"/>
<line x1="414.5" y1="204.1" x2="415.7" y2="202.5" stroke="#f8f4ec" stroke-width="0.72" opacity="0.63" stroke-linecap="round"/>
<line x1="414.5" y1="252.6" x2="414.5" y2="250.5" stroke="#b06a28" stroke-width="0.86" opacity="0.71" stroke-linecap="round"/>
<line x1="407.8" y1="248.4" x2="410.3" y2="245.7" stroke="#9a5a20" stroke-width="0.82" opacity="0.68" stroke-linecap="round"/>
<line x1="379.8" y1="227.5" x2="382.2" y2="225.8" stroke="#b06a28" stroke-width="1.01" opacity="0.69" stroke-linecap="round"/>
<line x1="401.1" y1="215.3" x2="402.3" y2="213.4" stroke="#f8f4ec" stroke-width="0.93" opacity="0.51" stroke-linecap="round"/>
<line x1="418.6" y1="243.4" x2="420.3" y2="241.7" stroke="#b06a28" stroke-width="0.83" opacity="0.83" stroke-linecap="round"/>
<line x1="423.9" y1="215.4" x2="425.4" y2="215.1" stroke="#d8a868" stroke-width="1.00" opacity="0.67" stroke-linecap="round"/>
<line x1="420.6" y1="235.6" x2="420.8" y2="233.5" stroke="#c88848" stroke-width="1.07" opacity="0.73" stroke-linecap="round"/>
<line x1="418.7" y1="229.0" x2="420.4" y2="225.1" stroke="#f8f4ec" stroke-width="0.98" opacity="0.64" stroke-linecap="round"/>
<line x1="402.4" y1="202.4" x2="403.1" y2="201.0" stroke="#c88848" stroke-width="0.66" opacity="0.55" stroke-linecap="round"/>
<line x1="415.3" y1="206.2" x2="415.7" y2="202.2" stroke="#d8a868" stroke-width="0.66" opacity="0.60" stroke-linecap="round"/>
<line x1="394.6" y1="214.1" x2="395.2" y2="212.0" stroke="#f8f4ec" stroke-width="0.68" opacity="0.62" stroke-linecap="round"/>
<line x1="381.8" y1="236.1" x2="383.7" y2="234.2" stroke="#f8f4ec" stroke-width="0.90" opacity="0.86" stroke-linecap="round"/>
<line x1="394.6" y1="218.9" x2="397.5" y2="217.4" stroke="#c88848" stroke-width="1.08" opacity="0.66" stroke-linecap="round"/>
<line x1="392.4" y1="221.2" x2="393.5" y2="217.8" stroke="#9a5a20" stroke-width="0.81" opacity="0.63" stroke-linecap="round"/>
<line x1="401.9" y1="204.7" x2="403.5" y2="201.2" stroke="#c88848" stroke-width="0.85" opacity="0.65" stroke-linecap="round"/>
<line x1="390.1" y1="215.5" x2="391.5" y2="214.5" stroke="#b06a28" stroke-width="1.04" opacity="0.65" stroke-linecap="round"/>
<line x1="414.4" y1="251.8" x2="414.5" y2="250.0" stroke="#c88848" stroke-width="0.67" opacity="0.56" stroke-linecap="round"/>
<line x1="398.6" y1="244.8" x2="400.9" y2="244.1" stroke="#f8f4ec" stroke-width="0.86" opacity="0.56" stroke-linecap="round"/>
<line x1="421.6" y1="244.7" x2="421.6" y2="240.5" stroke="#c88848" stroke-width="0.72" opacity="0.59" stroke-linecap="round"/>
<line x1="419.1" y1="209.6" x2="418.5" y2="206.9" stroke="#c88848" stroke-width="1.07" opacity="0.62" stroke-linecap="round"/>
<line x1="421.6" y1="223.1" x2="425.7" y2="223.2" stroke="#f8f4ec" stroke-width="0.63" opacity="0.77" stroke-linecap="round"/>
<line x1="382.7" y1="229.1" x2="384.0" y2="227.2" stroke="#c88848" stroke-width="0.82" opacity="0.81" stroke-linecap="round"/>
<line x1="410.0" y1="243.1" x2="411.8" y2="242.0" stroke="#f8f4ec" stroke-width="1.07" opacity="0.59" stroke-linecap="round"/>
<line x1="390.2" y1="215.8" x2="389.7" y2="213.0" stroke="#9a5a20" stroke-width="0.78" opacity="0.70" stroke-linecap="round"/>
<line x1="415.6" y1="243.9" x2="417.7" y2="240.8" stroke="#9a5a20" stroke-width="1.04" opacity="0.81" stroke-linecap="round"/>
<line x1="403.5" y1="246.2" x2="404.4" y2="243.4" stroke="#f8f4ec" stroke-width="1.00" opacity="0.63" stroke-linecap="round"/>
<line x1="391.0" y1="236.4" x2="392.4" y2="235.0" stroke="#f8f4ec" stroke-width="0.84" opacity="0.88" stroke-linecap="round"/>
<line x1="402.7" y1="232.9" x2="404.2" y2="230.4" stroke="#9a5a20" stroke-width="0.68" opacity="0.56" stroke-linecap="round"/>
<line x1="410.1" y1="215.6" x2="411.7" y2="215.2" stroke="#f8f4ec" stroke-width="0.73" opacity="0.62" stroke-linecap="round"/>
<line x1="391.3" y1="238.7" x2="391.0" y2="235.5" stroke="#f8f4ec" stroke-width="0.62" opacity="0.71" stroke-linecap="round"/>
<line x1="374.6" y1="223.0" x2="376.0" y2="219.7" stroke="#d8a868" stroke-width="1.08" opacity="0.81" stroke-linecap="round"/>
<line x1="413.4" y1="238.4" x2="416.2" y2="237.4" stroke="#c88848" stroke-width="1.00" opacity="0.90" stroke-linecap="round"/>
<line x1="391.7" y1="238.2" x2="393.7" y2="235.6" stroke="#9a5a20" stroke-width="1.03" opacity="0.55" stroke-linecap="round"/>
<line x1="394.0" y1="226.2" x2="394.2" y2="222.6" stroke="#b06a28" stroke-width="0.94" opacity="0.68" stroke-linecap="round"/>
<line x1="389.1" y1="211.9" x2="389.4" y2="209.1" stroke="#b06a28" stroke-width="1.10" opacity="0.54" stroke-linecap="round"/>
<line x1="417.9" y1="239.3" x2="416.9" y2="237.0" stroke="#f8f4ec" stroke-width="0.75" opacity="0.74" stroke-linecap="round"/>
<line x1="383.5" y1="222.4" x2="384.4" y2="220.0" stroke="#c88848" stroke-width="0.87" opacity="0.63" stroke-linecap="round"/>
<line x1="377.1" y1="235.3" x2="378.5" y2="231.5" stroke="#b06a28" stroke-width="0.87" opacity="0.69" stroke-linecap="round"/>
<line x1="392.6" y1="222.7" x2="395.1" y2="219.5" stroke="#b06a28" stroke-width="0.94" opacity="0.77" stroke-linecap="round"/>
<line x1="416.4" y1="208.8" x2="417.5" y2="204.6" stroke="#f8f4ec" stroke-width="0.70" opacity="0.62" stroke-linecap="round"/>
<line x1="393.6" y1="233.0" x2="395.1" y2="229.3" stroke="#f8f4ec" stroke-width="0.81" opacity="0.82" stroke-linecap="round"/>
<line x1="390.9" y1="209.5" x2="392.8" y2="207.0" stroke="#f8f4ec" stroke-width="0.80" opacity="0.55" stroke-linecap="round"/>
<line x1="398.7" y1="203.2" x2="399.5" y2="199.3" stroke="#9a5a20" stroke-width="0.91" opacity="0.83" stroke-linecap="round"/>
<line x1="401.7" y1="209.5" x2="401.8" y2="206.6" stroke="#c88848" stroke-width="1.01" opacity="0.75" stroke-linecap="round"/>
<line x1="404.0" y1="236.9" x2="405.2" y2="236.0" stroke="#f8f4ec" stroke-width="0.78" opacity="0.67" stroke-linecap="round"/>
<line x1="395.0" y1="208.7" x2="396.9" y2="206.3" stroke="#b06a28" stroke-width="0.61" opacity="0.72" stroke-linecap="round"/>
<line x1="401.6" y1="204.7" x2="403.3" y2="202.9" stroke="#c88848" stroke-width="0.89" opacity="0.76" stroke-linecap="round"/>
<line x1="381.6" y1="213.8" x2="380.0" y2="211.0" stroke="#d8a868" stroke-width="0.66" opacity="0.51" stroke-linecap="round"/>
<line x1="413.4" y1="243.9" x2="415.4" y2="240.8" stroke="#b06a28" stroke-width="0.69" opacity="0.65" stroke-linecap="round"/>
<line x1="398.2" y1="219.7" x2="399.2" y2="217.9" stroke="#9a5a20" stroke-width="0.96" opacity="0.74" stroke-linecap="round"/>
<line x1="415.4" y1="222.9" x2="418.2" y2="222.1" stroke="#c88848" stroke-width="0.96" opacity="0.86" stroke-linecap="round"/>
<line x1="389.7" y1="230.5" x2="390.5" y2="228.4" stroke="#9a5a20" stroke-width="0.76" opacity="0.60" stroke-linecap="round"/>
<line x1="398.5" y1="214.5" x2="399.8" y2="211.9" stroke="#c88848" stroke-width="0.97" opacity="0.88" stroke-linecap="round"/>
<line x1="403.0" y1="237.1" x2="404.3" y2="234.9" stroke="#f8f4ec" stroke-width="0.62" opacity="0.64" stroke-linecap="round"/>
<line x1="394.8" y1="239.2" x2="396.4" y2="238.0" stroke="#f8f4ec" stroke-width="0.91" opacity="0.70" stroke-linecap="round"/>
<line x1="415.7" y1="210.3" x2="415.6" y2="206.3" stroke="#d8a868" stroke-width="0.81" opacity="0.63" stroke-linecap="round"/>
<line x1="379.5" y1="223.2" x2="382.2" y2="220.2" stroke="#f8f4ec" stroke-width="0.68" opacity="0.81" stroke-linecap="round"/>
<line x1="409.1" y1="206.9" x2="410.2" y2="205.3" stroke="#c88848" stroke-width="0.69" opacity="0.63" stroke-linecap="round"/>
<line x1="398.8" y1="201.7" x2="402.0" y2="199.3" stroke="#9a5a20" stroke-width="0.88" opacity="0.88" stroke-linecap="round"/>
<line x1="394.4" y1="252.5" x2="395.8" y2="248.2" stroke="#d8a868" stroke-width="0.71" opacity="0.73" stroke-linecap="round"/>
<line x1="378.1" y1="240.0" x2="377.7" y2="237.6" stroke="#f8f4ec" stroke-width="0.98" opacity="0.71" stroke-linecap="round"/>
<line x1="387.8" y1="252.5" x2="388.6" y2="250.1" stroke="#b06a28" stroke-width="0.97" opacity="0.62" stroke-linecap="round"/>
<line x1="414.4" y1="237.8" x2="415.8" y2="236.6" stroke="#c88848" stroke-width="0.68" opacity="0.84" stroke-linecap="round"/>
<line x1="373.0" y1="230.9" x2="376.8" y2="231.9" stroke="#d8a868" stroke-width="1.08" opacity="0.74" stroke-linecap="round"/>
<line x1="405.7" y1="211.2" x2="408.8" y2="208.9" stroke="#9a5a20" stroke-width="0.98" opacity="0.76" stroke-linecap="round"/>
<line x1="390.2" y1="235.5" x2="389.0" y2="233.5" stroke="#c88848" stroke-width="0.87" opacity="0.64" stroke-linecap="round"/>
<line x1="411.0" y1="241.3" x2="412.1" y2="237.6" stroke="#d8a868" stroke-width="0.73" opacity="0.68" stroke-linecap="round"/>
<line x1="400.5" y1="224.1" x2="404.1" y2="225.2" stroke="#d8a868" stroke-width="1.10" opacity="0.63" stroke-linecap="round"/>
<line x1="405.9" y1="251.2" x2="408.7" y2="250.1" stroke="#f8f4ec" stroke-width="0.78" opacity="0.60" stroke-linecap="round"/>
<line x1="390.3" y1="239.2" x2="392.3" y2="238.3" stroke="#9a5a20" stroke-width="0.61" opacity="0.53" stroke-linecap="round"/>
<line x1="396.3" y1="231.0" x2="397.6" y2="227.8" stroke="#f8f4ec" stroke-width="1.01" opacity="0.80" stroke-linecap="round"/>
<line x1="420.9" y1="217.3" x2="418.9" y2="213.7" stroke="#c88848" stroke-width="1.06" opacity="0.61" stroke-linecap="round"/>
<line x1="423.7" y1="216.8" x2="425.2" y2="216.6" stroke="#b06a28" stroke-width="0.95" opacity="0.79" stroke-linecap="round"/>
<line x1="391.5" y1="225.3" x2="392.2" y2="222.5" stroke="#c88848" stroke-width="1.00" opacity="0.75" stroke-linecap="round"/>
<line x1="396.5" y1="225.3" x2="397.9" y2="223.4" stroke="#f8f4ec" stroke-width="0.71" opacity="0.50" stroke-linecap="round"/>
<line x1="388.5" y1="236.1" x2="389.1" y2="231.8" stroke="#f8f4ec" stroke-width="1.09" opacity="0.87" stroke-linecap="round"/>
<line x1="397.5" y1="250.7" x2="397.1" y2="247.6" stroke="#9a5a20" stroke-width="0.91" opacity="0.62" stroke-linecap="round"/>
<line x1="376.6" y1="217.2" x2="377.7" y2="214.5" stroke="#f8f4ec" stroke-width="0.92" opacity="0.62" stroke-linecap="round"/>
<line x1="407.6" y1="222.8" x2="408.9" y2="221.2" stroke="#c88848" stroke-width="0.85" opacity="0.50" stroke-linecap="round"/>
<line x1="426.6" y1="216.8" x2="426.8" y2="214.0" stroke="#f8f4ec" stroke-width="0.95" opacity="0.57" stroke-linecap="round"/>
<line x1="392.0" y1="215.6" x2="391.8" y2="212.9" stroke="#d8a868" stroke-width="0.70" opacity="0.87" stroke-linecap="round"/>
<line x1="405.4" y1="229.2" x2="406.4" y2="226.9" stroke="#9a5a20" stroke-width="0.69" opacity="0.85" stroke-linecap="round"/>
<line x1="388.5" y1="221.7" x2="392.2" y2="221.5" stroke="#f8f4ec" stroke-width="0.71" opacity="0.60" stroke-linecap="round"/>
<line x1="414.0" y1="244.6" x2="415.8" y2="240.7" stroke="#9a5a20" stroke-width="1.06" opacity="0.62" stroke-linecap="round"/>
<line x1="420.3" y1="240.6" x2="420.9" y2="236.4" stroke="#d8a868" stroke-width="1.07" opacity="0.63" stroke-linecap="round"/>
<line x1="407.2" y1="248.5" x2="407.7" y2="244.2" stroke="#9a5a20" stroke-width="0.75" opacity="0.88" stroke-linecap="round"/>
<line x1="429.0" y1="225.0" x2="428.8" y2="223.0" stroke="#c88848" stroke-width="0.71" opacity="0.81" stroke-linecap="round"/>
<line x1="408.3" y1="247.6" x2="408.5" y2="245.1" stroke="#c88848" stroke-width="0.83" opacity="0.66" stroke-linecap="round"/>
<line x1="382.4" y1="240.3" x2="384.0" y2="239.1" stroke="#f8f4ec" stroke-width="0.80" opacity="0.59" stroke-linecap="round"/>
<line x1="389.1" y1="250.6" x2="390.9" y2="248.2" stroke="#b06a28" stroke-width="0.72" opacity="0.58" stroke-linecap="round"/>
<line x1="390.8" y1="204.5" x2="390.9" y2="202.6" stroke="#f8f4ec" stroke-width="1.07" opacity="0.60" stroke-linecap="round"/>
<line x1="411.2" y1="225.5" x2="412.3" y2="223.5" stroke="#9a5a20" stroke-width="0.77" opacity="0.88" stroke-linecap="round"/>
<line x1="380.9" y1="218.6" x2="382.9" y2="214.8" stroke="#d8a868" stroke-width="1.02" opacity="0.65" stroke-linecap="round"/>
<line x1="403.9" y1="239.1" x2="404.0" y2="236.2" stroke="#b06a28" stroke-width="0.63" opacity="0.83" stroke-linecap="round"/>
<line x1="387.8" y1="205.8" x2="387.8" y2="202.5" stroke="#f8f4ec" stroke-width="0.68" opacity="0.86" stroke-linecap="round"/>
<line x1="415.8" y1="224.9" x2="420.0" y2="223.7" stroke="#b06a28" stroke-width="0.82" opacity="0.70" stroke-linecap="round"/>
<line x1="413.1" y1="253.2" x2="414.7" y2="249.3" stroke="#b06a28" stroke-width="0.69" opacity="0.70" stroke-linecap="round"/>
<line x1="418.1" y1="235.7" x2="420.5" y2="233.3" stroke="#b06a28" stroke-width="0.76" opacity="0.59" stroke-linecap="round"/>
<line x1="402.6" y1="229.2" x2="405.1" y2="225.9" stroke="#f8f4ec" stroke-width="0.70" opacity="0.83" stroke-linecap="round"/>
<line x1="398.0" y1="201.4" x2="400.8" y2="198.1" stroke="#f8f4ec" stroke-width="1.08" opacity="0.57" stroke-linecap="round"/>
<line x1="417.3" y1="248.3" x2="416.1" y2="244.7" stroke="#c88848" stroke-width="1.00" opacity="0.83" stroke-linecap="round"/>
<line x1="408.9" y1="253.4" x2="410.2" y2="250.8" stroke="#f8f4ec" stroke-width="1.00" opacity="0.76" stroke-linecap="round"/>
<line x1="409.2" y1="249.9" x2="411.0" y2="248.5" stroke="#d8a868" stroke-width="0.80" opacity="0.77" stroke-linecap="round"/>
<line x1="404.7" y1="205.8" x2="406.3" y2="204.6" stroke="#f8f4ec" stroke-width="0.91" opacity="0.81" stroke-linecap="round"/>
<line x1="394.7" y1="250.1" x2="396.3" y2="248.8" stroke="#d8a868" stroke-width="0.68" opacity="0.57" stroke-linecap="round"/>
<line x1="416.5" y1="247.0" x2="418.8" y2="245.7" stroke="#b06a28" stroke-width="0.75" opacity="0.75" stroke-linecap="round"/>
<line x1="405.6" y1="226.4" x2="406.0" y2="223.0" stroke="#9a5a20" stroke-width="0.86" opacity="0.79" stroke-linecap="round"/>
<line x1="375.9" y1="227.4" x2="376.9" y2="224.3" stroke="#f8f4ec" stroke-width="1.02" opacity="0.86" stroke-linecap="round"/>
<line x1="421.8" y1="220.2" x2="423.5" y2="218.1" stroke="#d8a868" stroke-width="1.04" opacity="0.52" stroke-linecap="round"/>
<line x1="399.6" y1="236.2" x2="402.0" y2="234.2" stroke="#d8a868" stroke-width="0.69" opacity="0.86" stroke-linecap="round"/>
<line x1="397.9" y1="238.1" x2="398.6" y2="233.9" stroke="#b06a28" stroke-width="0.86" opacity="0.67" stroke-linecap="round"/>
<line x1="400.6" y1="231.7" x2="402.0" y2="229.6" stroke="#d8a868" stroke-width="0.92" opacity="0.81" stroke-linecap="round"/>
<line x1="427.9" y1="229.8" x2="427.0" y2="225.4" stroke="#b06a28" stroke-width="0.68" opacity="0.80" stroke-linecap="round"/>
<line x1="386.8" y1="227.3" x2="389.5" y2="226.1" stroke="#9a5a20" stroke-width="0.67" opacity="0.86" stroke-linecap="round"/>
<line x1="424.8" y1="242.1" x2="425.5" y2="239.7" stroke="#c88848" stroke-width="0.81" opacity="0.77" stroke-linecap="round"/>
<line x1="409.8" y1="255.1" x2="410.1" y2="252.5" stroke="#f8f4ec" stroke-width="0.65" opacity="0.84" stroke-linecap="round"/>
<line x1="419.1" y1="227.9" x2="423.1" y2="226.7" stroke="#f8f4ec" stroke-width="0.80" opacity="0.70" stroke-linecap="round"/>
<line x1="404.2" y1="213.2" x2="403.2" y2="210.9" stroke="#b06a28" stroke-width="1.06" opacity="0.60" stroke-linecap="round"/>
<line x1="386.2" y1="210.2" x2="389.0" y2="208.6" stroke="#d8a868" stroke-width="0.74" opacity="0.88" stroke-linecap="round"/>
<line x1="402.7" y1="210.5" x2="404.1" y2="208.8" stroke="#9a5a20" stroke-width="0.87" opacity="0.59" stroke-linecap="round"/>
<line x1="379.6" y1="226.2" x2="381.0" y2="224.9" stroke="#f8f4ec" stroke-width="0.83" opacity="0.58" stroke-linecap="round"/>
<line x1="384.8" y1="230.7" x2="385.5" y2="228.9" stroke="#c88848" stroke-width="0.92" opacity="0.61" stroke-linecap="round"/>
<line x1="385.6" y1="222.3" x2="388.1" y2="219.0" stroke="#f8f4ec" stroke-width="0.79" opacity="0.81" stroke-linecap="round"/>
<line x1="411.2" y1="225.6" x2="412.5" y2="222.9" stroke="#d8a868" stroke-width="1.03" opacity="0.87" stroke-linecap="round"/>
<line x1="404.4" y1="241.1" x2="408.0" y2="240.9" stroke="#c88848" stroke-width="0.99" opacity="0.67" stroke-linecap="round"/>
<line x1="410.5" y1="238.8" x2="411.2" y2="234.6" stroke="#c88848" stroke-width="1.03" opacity="0.58" stroke-linecap="round"/>
<line x1="410.0" y1="208.4" x2="408.6" y2="205.5" stroke="#f8f4ec" stroke-width="0.93" opacity="0.76" stroke-linecap="round"/>
<line x1="382.5" y1="226.6" x2="383.6" y2="225.4" stroke="#c88848" stroke-width="0.65" opacity="0.54" stroke-linecap="round"/>
<line x1="392.8" y1="222.3" x2="393.0" y2="220.6" stroke="#d8a868" stroke-width="0.85" opacity="0.55" stroke-linecap="round"/>
<line x1="405.9" y1="231.6" x2="408.6" y2="228.0" stroke="#b06a28" stroke-width="1.00" opacity="0.66" stroke-linecap="round"/>
<line x1="381.7" y1="232.8" x2="379.7" y2="231.1" stroke="#f8f4ec" stroke-width="1.09" opacity="0.61" stroke-linecap="round"/>
<line x1="391.9" y1="229.0" x2="393.7" y2="227.2" stroke="#d8a868" stroke-width="1.08" opacity="0.61" stroke-linecap="round"/>
<line x1="426.8" y1="220.2" x2="427.7" y2="216.4" stroke="#f8f4ec" stroke-width="1.01" opacity="0.55" stroke-linecap="round"/>
<line x1="396.9" y1="228.1" x2="399.7" y2="228.6" stroke="#f8f4ec" stroke-width="0.68" opacity="0.59" stroke-linecap="round"/>
<line x1="393.4" y1="240.8" x2="395.5" y2="238.4" stroke="#f8f4ec" stroke-width="1.04" opacity="0.69" stroke-linecap="round"/>
<line x1="408.4" y1="213.6" x2="408.1" y2="211.7" stroke="#b06a28" stroke-width="1.09" opacity="0.72" stroke-linecap="round"/>
<line x1="377.2" y1="242.0" x2="380.1" y2="240.5" stroke="#c88848" stroke-width="0.82" opacity="0.88" stroke-linecap="round"/>
<line x1="404.5" y1="242.3" x2="404.0" y2="239.9" stroke="#d8a868" stroke-width="0.64" opacity="0.58" stroke-linecap="round"/>
<line x1="394.9" y1="240.0" x2="394.5" y2="237.8" stroke="#c88848" stroke-width="1.08" opacity="0.54" stroke-linecap="round"/>
<line x1="420.7" y1="213.7" x2="421.8" y2="210.9" stroke="#9a5a20" stroke-width="0.97" opacity="0.87" stroke-linecap="round"/>
<line x1="373.7" y1="229.5" x2="374.2" y2="228.0" stroke="#b06a28" stroke-width="0.80" opacity="0.50" stroke-linecap="round"/>
<line x1="425.4" y1="214.0" x2="424.5" y2="210.7" stroke="#f8f4ec" stroke-width="1.09" opacity="0.56" stroke-linecap="round"/>
<line x1="405.8" y1="254.6" x2="407.1" y2="251.0" stroke="#d8a868" stroke-width="0.89" opacity="0.75" stroke-linecap="round"/>
<line x1="382.2" y1="230.7" x2="384.7" y2="229.2" stroke="#b06a28" stroke-width="0.75" opacity="0.77" stroke-linecap="round"/>
<line x1="412.0" y1="229.3" x2="411.9" y2="225.4" stroke="#f8f4ec" stroke-width="1.08" opacity="0.80" stroke-linecap="round"/>
<line x1="398.3" y1="234.3" x2="401.4" y2="232.9" stroke="#b06a28" stroke-width="0.74" opacity="0.59" stroke-linecap="round"/>
<line x1="424.1" y1="239.8" x2="424.1" y2="238.0" stroke="#d8a868" stroke-width="0.61" opacity="0.85" stroke-linecap="round"/>
<line x1="410.0" y1="203.4" x2="411.1" y2="199.6" stroke="#c88848" stroke-width="0.75" opacity="0.52" stroke-linecap="round"/>
<line x1="387.9" y1="225.3" x2="390.6" y2="222.0" stroke="#d8a868" stroke-width="0.69" opacity="0.66" stroke-linecap="round"/>
<line x1="383.6" y1="245.0" x2="384.5" y2="243.7" stroke="#b06a28" stroke-width="0.81" opacity="0.74" stroke-linecap="round"/>
</g>
<circle cx="401.5" cy="227.2" r="28.3" fill="none" stroke="#2a2a2a" stroke-width="1.1"/>
<rect x="313.6" y="259.7" width="56.3" height="47" fill="#4670c4" filter="url(#fspeck)"/>
<rect x="313.6" y="259.7" width="56.3" height="47" fill="none" stroke="#333" stroke-width="0.8"/>
<line x1="354.9" y1="301.4" x2="365.1" y2="301.4" stroke="#e8202a" stroke-width="1.1"/>
<g clip-path="url(#zP)">
<rect x="373.8" y="259.8" width="55.7" height="46.6" fill="#f7f0e2"/>
<line x1="406.5" y1="295.2" x2="410.6" y2="294.0" stroke="#9a4210" stroke-width="0.62" stroke-linecap="round" opacity="0.79"/>
<line x1="426.0" y1="292.3" x2="427.6" y2="288.0" stroke="#e09850" stroke-width="0.86" stroke-linecap="round" opacity="0.95"/>
<line x1="413.8" y1="279.3" x2="415.5" y2="277.9" stroke="#e09850" stroke-width="0.70" stroke-linecap="round" opacity="0.85"/>
<line x1="379.6" y1="261.3" x2="380.9" y2="256.9" stroke="#cf7428" stroke-width="1.14" stroke-linecap="round" opacity="0.98"/>
<line x1="381.4" y1="267.8" x2="383.5" y2="266.2" stroke="#cf7428" stroke-width="0.73" stroke-linecap="round" opacity="0.99"/>
<line x1="382.8" y1="305.5" x2="385.6" y2="305.2" stroke="#e09850" stroke-width="0.85" stroke-linecap="round" opacity="0.67"/>
<line x1="380.6" y1="263.2" x2="382.0" y2="261.1" stroke="#b85a18" stroke-width="0.65" stroke-linecap="round" opacity="0.74"/>
<line x1="389.8" y1="293.3" x2="391.0" y2="291.5" stroke="#eab878" stroke-width="1.09" stroke-linecap="round" opacity="0.62"/>
<line x1="427.3" y1="261.7" x2="429.8" y2="258.5" stroke="#eab878" stroke-width="0.86" stroke-linecap="round" opacity="0.83"/>
<line x1="373.0" y1="262.2" x2="374.1" y2="260.3" stroke="#cf7428" stroke-width="0.68" stroke-linecap="round" opacity="0.70"/>
<line x1="418.5" y1="282.2" x2="421.0" y2="280.1" stroke="#eab878" stroke-width="0.68" stroke-linecap="round" opacity="0.90"/>
<line x1="418.1" y1="301.0" x2="418.8" y2="299.5" stroke="#e09850" stroke-width="0.75" stroke-linecap="round" opacity="0.81"/>
<line x1="389.5" y1="298.9" x2="391.4" y2="295.8" stroke="#eab878" stroke-width="0.71" stroke-linecap="round" opacity="0.62"/>
<line x1="428.9" y1="286.0" x2="429.6" y2="283.2" stroke="#cf7428" stroke-width="1.12" stroke-linecap="round" opacity="0.74"/>
<line x1="386.3" y1="290.6" x2="388.2" y2="289.9" stroke="#eab878" stroke-width="0.83" stroke-linecap="round" opacity="0.68"/>
<line x1="428.4" y1="286.9" x2="429.4" y2="285.2" stroke="#eab878" stroke-width="0.67" stroke-linecap="round" opacity="0.77"/>
<line x1="382.6" y1="300.3" x2="380.5" y2="298.8" stroke="#cf7428" stroke-width="1.28" stroke-linecap="round" opacity="0.78"/>
<line x1="399.4" y1="294.7" x2="402.2" y2="293.3" stroke="#b85a18" stroke-width="0.93" stroke-linecap="round" opacity="0.96"/>
<line x1="378.0" y1="299.3" x2="380.9" y2="297.6" stroke="#b85a18" stroke-width="0.73" stroke-linecap="round" opacity="0.80"/>
<line x1="375.2" y1="297.2" x2="378.0" y2="297.1" stroke="#9a4210" stroke-width="1.06" stroke-linecap="round" opacity="0.90"/>
<line x1="393.9" y1="294.0" x2="393.5" y2="291.6" stroke="#b85a18" stroke-width="1.27" stroke-linecap="round" opacity="0.74"/>
<line x1="382.2" y1="301.1" x2="384.2" y2="298.7" stroke="#b85a18" stroke-width="0.83" stroke-linecap="round" opacity="0.71"/>
<line x1="424.4" y1="279.8" x2="428.5" y2="277.4" stroke="#eab878" stroke-width="1.28" stroke-linecap="round" opacity="0.98"/>
<line x1="419.1" y1="304.3" x2="422.2" y2="303.7" stroke="#e09850" stroke-width="1.10" stroke-linecap="round" opacity="0.89"/>
<line x1="382.1" y1="298.1" x2="383.4" y2="294.8" stroke="#9a4210" stroke-width="0.99" stroke-linecap="round" opacity="0.95"/>
<line x1="388.2" y1="307.9" x2="388.7" y2="305.7" stroke="#9a4210" stroke-width="0.91" stroke-linecap="round" opacity="0.86"/>
<line x1="383.8" y1="292.8" x2="387.1" y2="291.1" stroke="#cf7428" stroke-width="0.72" stroke-linecap="round" opacity="0.96"/>
<line x1="378.2" y1="306.6" x2="380.4" y2="304.3" stroke="#9a4210" stroke-width="0.62" stroke-linecap="round" opacity="0.79"/>
<line x1="393.6" y1="289.7" x2="395.8" y2="287.0" stroke="#e09850" stroke-width="0.85" stroke-linecap="round" opacity="0.98"/>
<line x1="419.8" y1="300.6" x2="423.7" y2="300.5" stroke="#9a4210" stroke-width="0.86" stroke-linecap="round" opacity="0.61"/>
<line x1="390.6" y1="288.6" x2="394.1" y2="285.2" stroke="#9a4210" stroke-width="1.05" stroke-linecap="round" opacity="0.75"/>
<line x1="380.8" y1="289.3" x2="381.4" y2="285.9" stroke="#cf7428" stroke-width="1.28" stroke-linecap="round" opacity="0.84"/>
<line x1="392.4" y1="302.3" x2="393.7" y2="301.5" stroke="#9a4210" stroke-width="0.98" stroke-linecap="round" opacity="0.73"/>
<line x1="421.7" y1="286.9" x2="424.2" y2="285.2" stroke="#cf7428" stroke-width="0.95" stroke-linecap="round" opacity="0.79"/>
<line x1="413.4" y1="278.5" x2="413.4" y2="276.4" stroke="#b85a18" stroke-width="0.95" stroke-linecap="round" opacity="0.77"/>
<line x1="390.9" y1="307.8" x2="391.5" y2="304.7" stroke="#b85a18" stroke-width="0.70" stroke-linecap="round" opacity="0.61"/>
<line x1="409.7" y1="305.9" x2="411.5" y2="304.3" stroke="#eab878" stroke-width="0.61" stroke-linecap="round" opacity="0.81"/>
<line x1="387.3" y1="305.6" x2="389.9" y2="302.2" stroke="#cf7428" stroke-width="0.94" stroke-linecap="round" opacity="0.94"/>
<line x1="412.7" y1="273.4" x2="415.6" y2="272.0" stroke="#9a4210" stroke-width="1.22" stroke-linecap="round" opacity="0.96"/>
<line x1="373.2" y1="266.1" x2="374.6" y2="264.0" stroke="#b85a18" stroke-width="1.03" stroke-linecap="round" opacity="0.89"/>
<line x1="373.3" y1="277.3" x2="375.8" y2="274.3" stroke="#e09850" stroke-width="0.78" stroke-linecap="round" opacity="0.78"/>
<line x1="424.6" y1="303.2" x2="425.9" y2="300.0" stroke="#e09850" stroke-width="0.90" stroke-linecap="round" opacity="0.92"/>
<line x1="406.7" y1="294.5" x2="407.1" y2="289.7" stroke="#eab878" stroke-width="0.93" stroke-linecap="round" opacity="0.87"/>
<line x1="414.1" y1="303.7" x2="413.9" y2="300.6" stroke="#e09850" stroke-width="0.81" stroke-linecap="round" opacity="0.60"/>
<line x1="417.0" y1="288.8" x2="417.9" y2="285.1" stroke="#cf7428" stroke-width="0.93" stroke-linecap="round" opacity="0.82"/>
<line x1="405.8" y1="298.6" x2="406.9" y2="297.3" stroke="#cf7428" stroke-width="0.79" stroke-linecap="round" opacity="0.63"/>
<line x1="376.0" y1="305.4" x2="377.2" y2="303.0" stroke="#eab878" stroke-width="1.09" stroke-linecap="round" opacity="0.62"/>
<line x1="419.8" y1="271.0" x2="422.2" y2="268.1" stroke="#e09850" stroke-width="1.10" stroke-linecap="round" opacity="0.65"/>
<line x1="389.4" y1="304.0" x2="389.9" y2="302.1" stroke="#cf7428" stroke-width="0.65" stroke-linecap="round" opacity="0.69"/>
<line x1="404.0" y1="292.6" x2="405.3" y2="288.7" stroke="#b85a18" stroke-width="0.64" stroke-linecap="round" opacity="0.83"/>
<line x1="415.1" y1="302.1" x2="415.6" y2="300.2" stroke="#9a4210" stroke-width="0.94" stroke-linecap="round" opacity="0.74"/>
<line x1="409.7" y1="303.6" x2="411.1" y2="302.2" stroke="#b85a18" stroke-width="0.71" stroke-linecap="round" opacity="0.85"/>
<line x1="401.2" y1="304.3" x2="402.4" y2="301.1" stroke="#9a4210" stroke-width="0.76" stroke-linecap="round" opacity="0.93"/>
<line x1="388.4" y1="307.8" x2="390.0" y2="303.8" stroke="#b85a18" stroke-width="0.92" stroke-linecap="round" opacity="0.76"/>
<line x1="379.8" y1="261.1" x2="381.1" y2="258.7" stroke="#e09850" stroke-width="0.95" stroke-linecap="round" opacity="0.78"/>
<line x1="394.7" y1="282.0" x2="395.7" y2="280.4" stroke="#9a4210" stroke-width="0.62" stroke-linecap="round" opacity="0.89"/>
<line x1="374.9" y1="268.4" x2="377.2" y2="264.1" stroke="#e09850" stroke-width="0.66" stroke-linecap="round" opacity="0.96"/>
<line x1="400.6" y1="270.5" x2="401.5" y2="267.8" stroke="#cf7428" stroke-width="0.80" stroke-linecap="round" opacity="0.97"/>
<line x1="412.5" y1="298.4" x2="413.9" y2="296.0" stroke="#b85a18" stroke-width="1.16" stroke-linecap="round" opacity="0.77"/>
<line x1="421.2" y1="285.6" x2="421.9" y2="282.1" stroke="#9a4210" stroke-width="0.75" stroke-linecap="round" opacity="0.67"/>
<line x1="375.8" y1="261.5" x2="377.4" y2="260.0" stroke="#eab878" stroke-width="1.06" stroke-linecap="round" opacity="0.74"/>
<line x1="395.2" y1="274.5" x2="399.4" y2="272.3" stroke="#b85a18" stroke-width="0.93" stroke-linecap="round" opacity="0.64"/>
<line x1="381.9" y1="268.0" x2="381.7" y2="265.2" stroke="#cf7428" stroke-width="0.99" stroke-linecap="round" opacity="0.64"/>
<line x1="417.9" y1="295.7" x2="421.4" y2="294.3" stroke="#e09850" stroke-width="0.94" stroke-linecap="round" opacity="0.61"/>
<line x1="424.9" y1="278.9" x2="426.5" y2="274.5" stroke="#eab878" stroke-width="1.19" stroke-linecap="round" opacity="0.66"/>
<line x1="417.8" y1="276.1" x2="417.8" y2="273.0" stroke="#cf7428" stroke-width="1.11" stroke-linecap="round" opacity="0.67"/>
<line x1="383.5" y1="260.8" x2="385.4" y2="259.6" stroke="#b85a18" stroke-width="1.08" stroke-linecap="round" opacity="0.67"/>
<line x1="391.8" y1="263.9" x2="395.4" y2="260.5" stroke="#eab878" stroke-width="0.71" stroke-linecap="round" opacity="0.70"/>
<line x1="412.2" y1="305.8" x2="410.5" y2="302.5" stroke="#e09850" stroke-width="0.92" stroke-linecap="round" opacity="0.78"/>
<line x1="419.1" y1="300.0" x2="422.2" y2="298.4" stroke="#e09850" stroke-width="1.10" stroke-linecap="round" opacity="0.69"/>
<line x1="418.2" y1="264.9" x2="419.3" y2="261.9" stroke="#eab878" stroke-width="0.88" stroke-linecap="round" opacity="0.62"/>
<line x1="387.5" y1="279.8" x2="387.6" y2="277.3" stroke="#e09850" stroke-width="1.21" stroke-linecap="round" opacity="0.98"/>
<line x1="382.8" y1="293.8" x2="385.3" y2="291.0" stroke="#b85a18" stroke-width="1.15" stroke-linecap="round" opacity="0.63"/>
<line x1="428.5" y1="267.3" x2="429.8" y2="266.2" stroke="#cf7428" stroke-width="1.04" stroke-linecap="round" opacity="0.78"/>
<line x1="392.4" y1="280.6" x2="394.4" y2="278.0" stroke="#b85a18" stroke-width="1.08" stroke-linecap="round" opacity="0.96"/>
<line x1="429.4" y1="286.4" x2="430.6" y2="284.8" stroke="#eab878" stroke-width="0.66" stroke-linecap="round" opacity="0.91"/>
<line x1="418.9" y1="274.6" x2="420.5" y2="273.4" stroke="#e09850" stroke-width="1.16" stroke-linecap="round" opacity="0.99"/>
<line x1="385.7" y1="294.3" x2="388.7" y2="291.2" stroke="#b85a18" stroke-width="1.22" stroke-linecap="round" opacity="0.63"/>
<line x1="415.1" y1="278.4" x2="418.6" y2="276.0" stroke="#cf7428" stroke-width="1.00" stroke-linecap="round" opacity="0.78"/>
<line x1="418.2" y1="292.4" x2="420.9" y2="288.5" stroke="#e09850" stroke-width="1.09" stroke-linecap="round" opacity="0.71"/>
<line x1="418.6" y1="278.0" x2="420.0" y2="276.7" stroke="#b85a18" stroke-width="0.95" stroke-linecap="round" opacity="0.73"/>
<line x1="373.6" y1="286.6" x2="376.3" y2="283.5" stroke="#e09850" stroke-width="0.62" stroke-linecap="round" opacity="0.62"/>
<line x1="378.3" y1="277.0" x2="382.5" y2="275.3" stroke="#cf7428" stroke-width="0.97" stroke-linecap="round" opacity="0.65"/>
<line x1="384.0" y1="277.1" x2="384.9" y2="275.3" stroke="#9a4210" stroke-width="1.18" stroke-linecap="round" opacity="0.89"/>
<line x1="377.9" y1="285.4" x2="378.9" y2="283.5" stroke="#eab878" stroke-width="1.16" stroke-linecap="round" opacity="0.65"/>
<line x1="390.8" y1="304.5" x2="391.3" y2="301.4" stroke="#eab878" stroke-width="0.72" stroke-linecap="round" opacity="0.62"/>
<line x1="400.2" y1="259.6" x2="401.8" y2="258.6" stroke="#cf7428" stroke-width="1.28" stroke-linecap="round" opacity="0.61"/>
<line x1="405.8" y1="283.6" x2="406.0" y2="280.7" stroke="#cf7428" stroke-width="0.74" stroke-linecap="round" opacity="0.93"/>
<line x1="390.1" y1="285.9" x2="390.5" y2="281.6" stroke="#e09850" stroke-width="1.03" stroke-linecap="round" opacity="0.76"/>
<line x1="379.7" y1="299.5" x2="382.7" y2="298.3" stroke="#e09850" stroke-width="0.67" stroke-linecap="round" opacity="0.76"/>
<line x1="414.2" y1="274.1" x2="417.7" y2="270.9" stroke="#eab878" stroke-width="1.08" stroke-linecap="round" opacity="0.95"/>
<line x1="408.6" y1="298.8" x2="408.4" y2="296.0" stroke="#e09850" stroke-width="0.67" stroke-linecap="round" opacity="0.84"/>
<line x1="408.1" y1="298.8" x2="408.7" y2="297.3" stroke="#9a4210" stroke-width="0.87" stroke-linecap="round" opacity="0.79"/>
<line x1="412.9" y1="280.3" x2="413.2" y2="276.0" stroke="#9a4210" stroke-width="1.07" stroke-linecap="round" opacity="0.81"/>
<line x1="417.9" y1="278.1" x2="419.2" y2="274.8" stroke="#b85a18" stroke-width="0.80" stroke-linecap="round" opacity="0.61"/>
<line x1="416.8" y1="290.6" x2="417.4" y2="286.1" stroke="#eab878" stroke-width="0.81" stroke-linecap="round" opacity="0.97"/>
<line x1="388.1" y1="294.1" x2="389.2" y2="292.7" stroke="#b85a18" stroke-width="1.23" stroke-linecap="round" opacity="0.88"/>
<line x1="420.9" y1="296.3" x2="420.7" y2="292.6" stroke="#cf7428" stroke-width="0.94" stroke-linecap="round" opacity="0.64"/>
<line x1="380.7" y1="277.4" x2="379.1" y2="273.5" stroke="#eab878" stroke-width="0.86" stroke-linecap="round" opacity="0.90"/>
<line x1="389.2" y1="275.5" x2="393.4" y2="273.6" stroke="#b85a18" stroke-width="0.77" stroke-linecap="round" opacity="0.64"/>
<line x1="387.6" y1="297.3" x2="391.9" y2="297.2" stroke="#e09850" stroke-width="1.04" stroke-linecap="round" opacity="0.91"/>
<line x1="384.2" y1="262.8" x2="387.4" y2="261.2" stroke="#9a4210" stroke-width="1.11" stroke-linecap="round" opacity="0.77"/>
<line x1="396.6" y1="285.5" x2="397.9" y2="283.3" stroke="#b85a18" stroke-width="0.73" stroke-linecap="round" opacity="0.61"/>
<line x1="377.9" y1="286.7" x2="381.3" y2="285.3" stroke="#cf7428" stroke-width="0.90" stroke-linecap="round" opacity="0.73"/>
<line x1="377.5" y1="296.8" x2="380.2" y2="296.8" stroke="#cf7428" stroke-width="1.18" stroke-linecap="round" opacity="0.98"/>
<line x1="389.5" y1="300.7" x2="392.8" y2="299.0" stroke="#cf7428" stroke-width="1.23" stroke-linecap="round" opacity="0.85"/>
<line x1="418.1" y1="300.0" x2="418.8" y2="298.7" stroke="#b85a18" stroke-width="0.71" stroke-linecap="round" opacity="0.85"/>
<line x1="378.1" y1="297.2" x2="379.8" y2="293.5" stroke="#cf7428" stroke-width="1.10" stroke-linecap="round" opacity="0.97"/>
<line x1="425.8" y1="290.8" x2="429.2" y2="287.3" stroke="#e09850" stroke-width="0.74" stroke-linecap="round" opacity="0.73"/>
<line x1="381.2" y1="303.6" x2="384.5" y2="299.9" stroke="#e09850" stroke-width="0.77" stroke-linecap="round" opacity="0.98"/>
<line x1="397.7" y1="260.9" x2="401.4" y2="257.6" stroke="#e09850" stroke-width="0.95" stroke-linecap="round" opacity="0.99"/>
<line x1="425.8" y1="264.2" x2="428.0" y2="260.7" stroke="#b85a18" stroke-width="0.61" stroke-linecap="round" opacity="0.92"/>
<line x1="429.4" y1="296.0" x2="430.4" y2="294.1" stroke="#eab878" stroke-width="1.05" stroke-linecap="round" opacity="0.91"/>
<line x1="377.0" y1="265.3" x2="379.1" y2="263.3" stroke="#e09850" stroke-width="0.96" stroke-linecap="round" opacity="0.62"/>
<line x1="377.7" y1="272.7" x2="376.6" y2="271.3" stroke="#9a4210" stroke-width="1.19" stroke-linecap="round" opacity="0.94"/>
<line x1="386.3" y1="281.4" x2="387.7" y2="280.0" stroke="#e09850" stroke-width="0.60" stroke-linecap="round" opacity="0.91"/>
<line x1="393.3" y1="261.0" x2="393.8" y2="258.6" stroke="#9a4210" stroke-width="0.65" stroke-linecap="round" opacity="0.99"/>
<line x1="383.5" y1="298.1" x2="384.6" y2="297.0" stroke="#9a4210" stroke-width="0.66" stroke-linecap="round" opacity="0.71"/>
<line x1="426.0" y1="292.8" x2="428.8" y2="291.1" stroke="#9a4210" stroke-width="0.90" stroke-linecap="round" opacity="0.84"/>
<line x1="423.2" y1="291.3" x2="425.7" y2="288.6" stroke="#e09850" stroke-width="0.75" stroke-linecap="round" opacity="0.77"/>
<line x1="414.7" y1="300.1" x2="413.7" y2="295.9" stroke="#e09850" stroke-width="1.30" stroke-linecap="round" opacity="0.90"/>
<line x1="422.1" y1="267.3" x2="425.6" y2="265.0" stroke="#eab878" stroke-width="1.18" stroke-linecap="round" opacity="0.63"/>
<line x1="380.9" y1="277.2" x2="381.0" y2="275.7" stroke="#eab878" stroke-width="0.65" stroke-linecap="round" opacity="0.87"/>
<line x1="375.0" y1="279.7" x2="375.1" y2="277.6" stroke="#e09850" stroke-width="1.12" stroke-linecap="round" opacity="0.80"/>
<line x1="375.6" y1="276.8" x2="379.2" y2="276.2" stroke="#e09850" stroke-width="0.79" stroke-linecap="round" opacity="0.90"/>
<line x1="393.6" y1="297.0" x2="394.9" y2="295.4" stroke="#9a4210" stroke-width="1.23" stroke-linecap="round" opacity="0.96"/>
<line x1="396.1" y1="275.2" x2="395.4" y2="271.9" stroke="#9a4210" stroke-width="0.70" stroke-linecap="round" opacity="0.61"/>
<line x1="372.8" y1="278.2" x2="374.6" y2="276.8" stroke="#e09850" stroke-width="0.61" stroke-linecap="round" opacity="0.91"/>
<line x1="416.8" y1="262.5" x2="419.6" y2="260.9" stroke="#b85a18" stroke-width="1.14" stroke-linecap="round" opacity="0.82"/>
<line x1="423.8" y1="287.2" x2="425.5" y2="285.4" stroke="#9a4210" stroke-width="1.26" stroke-linecap="round" opacity="0.98"/>
<line x1="428.6" y1="274.2" x2="430.0" y2="272.7" stroke="#eab878" stroke-width="0.64" stroke-linecap="round" opacity="0.68"/>
<line x1="418.8" y1="278.2" x2="420.3" y2="275.7" stroke="#eab878" stroke-width="0.85" stroke-linecap="round" opacity="0.80"/>
<line x1="375.1" y1="263.6" x2="377.7" y2="262.9" stroke="#b85a18" stroke-width="1.17" stroke-linecap="round" opacity="0.79"/>
<line x1="380.0" y1="265.0" x2="382.4" y2="264.9" stroke="#e09850" stroke-width="1.04" stroke-linecap="round" opacity="0.76"/>
<line x1="421.4" y1="281.8" x2="424.5" y2="278.3" stroke="#e09850" stroke-width="1.23" stroke-linecap="round" opacity="0.74"/>
<line x1="378.6" y1="282.2" x2="381.5" y2="279.5" stroke="#9a4210" stroke-width="0.95" stroke-linecap="round" opacity="0.95"/>
<line x1="374.8" y1="288.1" x2="375.7" y2="286.4" stroke="#9a4210" stroke-width="1.00" stroke-linecap="round" opacity="0.81"/>
<line x1="412.6" y1="294.9" x2="412.7" y2="290.9" stroke="#9a4210" stroke-width="0.66" stroke-linecap="round" opacity="0.63"/>
<line x1="398.0" y1="292.1" x2="400.5" y2="288.2" stroke="#b85a18" stroke-width="0.68" stroke-linecap="round" opacity="0.90"/>
<line x1="387.4" y1="274.0" x2="388.1" y2="272.7" stroke="#b85a18" stroke-width="0.96" stroke-linecap="round" opacity="0.96"/>
<line x1="387.1" y1="305.1" x2="388.9" y2="303.8" stroke="#e09850" stroke-width="1.05" stroke-linecap="round" opacity="0.78"/>
<line x1="424.0" y1="268.3" x2="426.4" y2="266.0" stroke="#9a4210" stroke-width="0.84" stroke-linecap="round" opacity="0.61"/>
<line x1="396.5" y1="287.0" x2="399.0" y2="285.0" stroke="#cf7428" stroke-width="1.06" stroke-linecap="round" opacity="0.77"/>
<line x1="417.1" y1="300.2" x2="418.3" y2="298.0" stroke="#e09850" stroke-width="0.74" stroke-linecap="round" opacity="0.77"/>
<line x1="420.4" y1="285.1" x2="422.1" y2="282.4" stroke="#e09850" stroke-width="1.08" stroke-linecap="round" opacity="0.64"/>
<line x1="377.9" y1="301.9" x2="379.0" y2="299.7" stroke="#9a4210" stroke-width="0.73" stroke-linecap="round" opacity="0.91"/>
<line x1="414.9" y1="265.2" x2="418.4" y2="262.4" stroke="#b85a18" stroke-width="1.10" stroke-linecap="round" opacity="0.76"/>
<line x1="422.1" y1="263.2" x2="423.0" y2="260.8" stroke="#cf7428" stroke-width="0.63" stroke-linecap="round" opacity="0.64"/>
<line x1="414.4" y1="306.3" x2="415.7" y2="303.7" stroke="#eab878" stroke-width="0.62" stroke-linecap="round" opacity="0.83"/>
<line x1="425.2" y1="305.7" x2="427.1" y2="303.2" stroke="#e09850" stroke-width="0.72" stroke-linecap="round" opacity="0.70"/>
<line x1="389.7" y1="280.8" x2="391.3" y2="280.7" stroke="#cf7428" stroke-width="0.87" stroke-linecap="round" opacity="0.85"/>
<line x1="425.8" y1="276.7" x2="424.9" y2="272.5" stroke="#9a4210" stroke-width="0.65" stroke-linecap="round" opacity="0.72"/>
<line x1="422.0" y1="291.1" x2="421.6" y2="288.5" stroke="#9a4210" stroke-width="0.78" stroke-linecap="round" opacity="0.67"/>
<line x1="398.3" y1="306.6" x2="399.8" y2="302.6" stroke="#eab878" stroke-width="1.30" stroke-linecap="round" opacity="0.65"/>
<line x1="382.6" y1="264.8" x2="382.5" y2="261.8" stroke="#cf7428" stroke-width="1.16" stroke-linecap="round" opacity="0.79"/>
<line x1="389.9" y1="303.3" x2="390.0" y2="299.6" stroke="#e09850" stroke-width="0.98" stroke-linecap="round" opacity="0.82"/>
<line x1="385.2" y1="261.9" x2="384.4" y2="258.4" stroke="#9a4210" stroke-width="1.24" stroke-linecap="round" opacity="0.71"/>
<line x1="391.4" y1="301.8" x2="392.7" y2="300.3" stroke="#eab878" stroke-width="0.81" stroke-linecap="round" opacity="0.75"/>
<line x1="416.3" y1="273.7" x2="417.8" y2="272.1" stroke="#eab878" stroke-width="1.26" stroke-linecap="round" opacity="0.72"/>
<line x1="420.8" y1="292.0" x2="422.4" y2="289.5" stroke="#9a4210" stroke-width="1.07" stroke-linecap="round" opacity="0.74"/>
<line x1="414.7" y1="285.2" x2="414.8" y2="281.3" stroke="#cf7428" stroke-width="1.00" stroke-linecap="round" opacity="0.86"/>
<line x1="428.3" y1="295.4" x2="428.5" y2="293.3" stroke="#cf7428" stroke-width="1.20" stroke-linecap="round" opacity="0.70"/>
<line x1="419.7" y1="291.5" x2="420.8" y2="288.9" stroke="#b85a18" stroke-width="1.24" stroke-linecap="round" opacity="0.68"/>
<line x1="385.6" y1="264.4" x2="387.3" y2="260.0" stroke="#b85a18" stroke-width="0.90" stroke-linecap="round" opacity="0.72"/>
<line x1="413.9" y1="278.3" x2="416.0" y2="275.4" stroke="#e09850" stroke-width="1.22" stroke-linecap="round" opacity="0.81"/>
<line x1="372.9" y1="281.0" x2="373.4" y2="277.9" stroke="#cf7428" stroke-width="1.14" stroke-linecap="round" opacity="0.64"/>
<line x1="398.3" y1="281.4" x2="399.9" y2="278.7" stroke="#9a4210" stroke-width="1.04" stroke-linecap="round" opacity="0.93"/>
<line x1="406.7" y1="295.2" x2="409.3" y2="291.5" stroke="#9a4210" stroke-width="0.74" stroke-linecap="round" opacity="0.86"/>
<line x1="396.9" y1="284.5" x2="399.7" y2="281.7" stroke="#e09850" stroke-width="0.72" stroke-linecap="round" opacity="0.76"/>
<line x1="373.9" y1="262.2" x2="375.9" y2="261.3" stroke="#eab878" stroke-width="0.87" stroke-linecap="round" opacity="0.91"/>
<line x1="378.5" y1="277.8" x2="380.5" y2="277.1" stroke="#cf7428" stroke-width="0.89" stroke-linecap="round" opacity="0.61"/>
<line x1="397.1" y1="296.4" x2="400.9" y2="295.3" stroke="#b85a18" stroke-width="1.13" stroke-linecap="round" opacity="0.95"/>
<line x1="424.9" y1="298.5" x2="425.7" y2="295.6" stroke="#eab878" stroke-width="1.11" stroke-linecap="round" opacity="0.68"/>
<line x1="406.0" y1="295.6" x2="406.3" y2="291.1" stroke="#e09850" stroke-width="0.73" stroke-linecap="round" opacity="0.81"/>
<line x1="420.6" y1="277.4" x2="421.2" y2="275.7" stroke="#cf7428" stroke-width="1.04" stroke-linecap="round" opacity="0.67"/>
<line x1="403.2" y1="295.1" x2="404.9" y2="290.6" stroke="#e09850" stroke-width="1.09" stroke-linecap="round" opacity="0.79"/>
<line x1="418.5" y1="303.2" x2="421.9" y2="301.0" stroke="#b85a18" stroke-width="0.60" stroke-linecap="round" opacity="0.62"/>
<line x1="406.9" y1="296.9" x2="407.7" y2="293.8" stroke="#9a4210" stroke-width="0.92" stroke-linecap="round" opacity="0.97"/>
<line x1="396.9" y1="281.2" x2="397.7" y2="279.1" stroke="#e09850" stroke-width="1.14" stroke-linecap="round" opacity="0.79"/>
<line x1="376.5" y1="290.7" x2="379.0" y2="290.2" stroke="#e09850" stroke-width="1.11" stroke-linecap="round" opacity="0.76"/>
<line x1="390.5" y1="302.1" x2="392.0" y2="298.1" stroke="#e09850" stroke-width="1.25" stroke-linecap="round" opacity="0.96"/>
<line x1="414.8" y1="301.5" x2="418.4" y2="300.1" stroke="#e09850" stroke-width="0.63" stroke-linecap="round" opacity="0.81"/>
<line x1="376.9" y1="275.5" x2="379.4" y2="271.5" stroke="#b85a18" stroke-width="1.04" stroke-linecap="round" opacity="0.77"/>
<line x1="428.3" y1="301.8" x2="430.3" y2="299.8" stroke="#e09850" stroke-width="0.92" stroke-linecap="round" opacity="0.64"/>
<line x1="422.6" y1="276.6" x2="421.7" y2="272.9" stroke="#e09850" stroke-width="1.02" stroke-linecap="round" opacity="0.96"/>
<line x1="389.4" y1="282.2" x2="391.9" y2="280.0" stroke="#9a4210" stroke-width="0.95" stroke-linecap="round" opacity="0.94"/>
<line x1="379.5" y1="282.1" x2="381.5" y2="278.0" stroke="#9a4210" stroke-width="1.26" stroke-linecap="round" opacity="0.64"/>
<line x1="372.5" y1="266.6" x2="374.6" y2="265.2" stroke="#9a4210" stroke-width="0.68" stroke-linecap="round" opacity="0.90"/>
<line x1="424.3" y1="263.1" x2="424.9" y2="261.4" stroke="#cf7428" stroke-width="0.62" stroke-linecap="round" opacity="0.78"/>
<line x1="381.5" y1="276.8" x2="382.9" y2="273.1" stroke="#9a4210" stroke-width="0.99" stroke-linecap="round" opacity="0.76"/>
<line x1="391.9" y1="308.0" x2="395.7" y2="305.7" stroke="#b85a18" stroke-width="0.86" stroke-linecap="round" opacity="0.91"/>
<line x1="425.7" y1="305.1" x2="427.8" y2="303.2" stroke="#eab878" stroke-width="1.30" stroke-linecap="round" opacity="0.65"/>
<line x1="414.8" y1="295.2" x2="416.4" y2="292.6" stroke="#eab878" stroke-width="0.61" stroke-linecap="round" opacity="0.87"/>
<line x1="424.2" y1="284.4" x2="425.7" y2="283.2" stroke="#eab878" stroke-width="0.62" stroke-linecap="round" opacity="0.93"/>
<line x1="405.1" y1="285.1" x2="407.1" y2="281.3" stroke="#9a4210" stroke-width="0.84" stroke-linecap="round" opacity="0.94"/>
<line x1="373.0" y1="268.9" x2="374.4" y2="268.0" stroke="#eab878" stroke-width="0.97" stroke-linecap="round" opacity="0.62"/>
<line x1="384.4" y1="308.1" x2="387.1" y2="304.8" stroke="#e09850" stroke-width="1.09" stroke-linecap="round" opacity="0.90"/>
<line x1="378.3" y1="292.7" x2="380.0" y2="291.8" stroke="#e09850" stroke-width="1.04" stroke-linecap="round" opacity="0.91"/>
<line x1="423.2" y1="289.3" x2="424.9" y2="284.9" stroke="#eab878" stroke-width="0.72" stroke-linecap="round" opacity="0.71"/>
<line x1="375.1" y1="268.6" x2="378.3" y2="266.2" stroke="#eab878" stroke-width="1.19" stroke-linecap="round" opacity="0.91"/>
<line x1="413.9" y1="297.1" x2="417.2" y2="293.5" stroke="#e09850" stroke-width="0.80" stroke-linecap="round" opacity="0.61"/>
<line x1="386.9" y1="281.3" x2="388.7" y2="280.7" stroke="#e09850" stroke-width="1.25" stroke-linecap="round" opacity="0.73"/>
<line x1="386.3" y1="289.1" x2="387.2" y2="287.9" stroke="#b85a18" stroke-width="0.97" stroke-linecap="round" opacity="0.74"/>
<line x1="387.3" y1="270.8" x2="389.2" y2="267.9" stroke="#eab878" stroke-width="0.70" stroke-linecap="round" opacity="0.60"/>
<line x1="410.2" y1="288.1" x2="411.5" y2="286.0" stroke="#cf7428" stroke-width="0.68" stroke-linecap="round" opacity="0.84"/>
<line x1="412.7" y1="295.7" x2="413.7" y2="292.6" stroke="#eab878" stroke-width="1.04" stroke-linecap="round" opacity="0.88"/>
<line x1="376.9" y1="269.4" x2="378.1" y2="266.5" stroke="#b85a18" stroke-width="1.00" stroke-linecap="round" opacity="0.98"/>
<line x1="429.1" y1="260.3" x2="429.9" y2="259.0" stroke="#cf7428" stroke-width="1.02" stroke-linecap="round" opacity="0.86"/>
<line x1="407.2" y1="290.9" x2="407.3" y2="289.0" stroke="#cf7428" stroke-width="1.12" stroke-linecap="round" opacity="0.84"/>
<line x1="420.3" y1="303.6" x2="421.8" y2="302.1" stroke="#9a4210" stroke-width="0.62" stroke-linecap="round" opacity="0.71"/>
<line x1="380.3" y1="279.5" x2="384.1" y2="276.9" stroke="#e09850" stroke-width="1.04" stroke-linecap="round" opacity="0.61"/>
<line x1="384.4" y1="274.1" x2="387.7" y2="270.9" stroke="#eab878" stroke-width="1.17" stroke-linecap="round" opacity="0.63"/>
<line x1="394.1" y1="305.9" x2="397.0" y2="306.0" stroke="#9a4210" stroke-width="0.64" stroke-linecap="round" opacity="1.00"/>
<line x1="395.9" y1="288.8" x2="395.5" y2="286.6" stroke="#b85a18" stroke-width="0.83" stroke-linecap="round" opacity="0.87"/>
<line x1="393.7" y1="290.4" x2="394.2" y2="286.8" stroke="#cf7428" stroke-width="1.00" stroke-linecap="round" opacity="0.91"/>
<circle cx="405.5" cy="269.1" r="0.84" fill="#5070b0" opacity="0.85"/>
<circle cx="400.8" cy="275.1" r="0.74" fill="#5070b0" opacity="0.85"/>
<circle cx="400.5" cy="274.3" r="0.70" fill="#3a58a0" opacity="0.85"/>
<circle cx="414.8" cy="270.1" r="0.74" fill="#3a58a0" opacity="0.85"/>
<circle cx="389.4" cy="281.4" r="0.71" fill="#2c4888" opacity="0.85"/>
<circle cx="405.2" cy="262.3" r="0.72" fill="#3a58a0" opacity="0.85"/>
<circle cx="400.6" cy="277.4" r="0.73" fill="#3a58a0" opacity="0.85"/>
<circle cx="409.5" cy="282.7" r="0.48" fill="#5070b0" opacity="0.85"/>
<circle cx="399.4" cy="266.6" r="0.50" fill="#3a58a0" opacity="0.85"/>
<circle cx="396.3" cy="281.2" r="0.66" fill="#2c4888" opacity="0.85"/>
<circle cx="401.6" cy="280.9" r="0.59" fill="#3a58a0" opacity="0.85"/>
<circle cx="414.2" cy="274.3" r="0.65" fill="#2c4888" opacity="0.85"/>
<circle cx="412.0" cy="270.1" r="0.76" fill="#2c4888" opacity="0.85"/>
<circle cx="395.9" cy="274.5" r="0.47" fill="#3a58a0" opacity="0.85"/>
<circle cx="402.4" cy="268.3" r="0.84" fill="#3a58a0" opacity="0.85"/>
<circle cx="409.7" cy="268.0" r="0.72" fill="#2c4888" opacity="0.85"/>
<circle cx="400.9" cy="285.0" r="0.54" fill="#5070b0" opacity="0.85"/>
<circle cx="394.3" cy="271.1" r="0.45" fill="#3a58a0" opacity="0.85"/>
<circle cx="409.2" cy="267.9" r="0.56" fill="#3a58a0" opacity="0.85"/>
<circle cx="413.4" cy="270.9" r="0.55" fill="#5070b0" opacity="0.85"/>
<circle cx="389.9" cy="276.0" r="0.55" fill="#2c4888" opacity="0.85"/>
<circle cx="401.7" cy="268.7" r="0.51" fill="#3a58a0" opacity="0.85"/>
<circle cx="389.8" cy="269.5" r="0.51" fill="#3a58a0" opacity="0.85"/>
<circle cx="395.9" cy="285.7" r="0.47" fill="#2c4888" opacity="0.85"/>
<circle cx="398.9" cy="262.1" r="0.55" fill="#2c4888" opacity="0.85"/>
<circle cx="407.1" cy="280.4" r="0.77" fill="#3a58a0" opacity="0.85"/>
<circle cx="395.8" cy="276.0" r="0.51" fill="#2c4888" opacity="0.85"/>
<circle cx="412.4" cy="265.7" r="0.84" fill="#2c4888" opacity="0.85"/>
<circle cx="411.2" cy="269.0" r="0.62" fill="#2c4888" opacity="0.85"/>
<circle cx="387.2" cy="274.0" r="0.75" fill="#5070b0" opacity="0.85"/>
<circle cx="389.8" cy="275.0" r="0.48" fill="#5070b0" opacity="0.85"/>
<circle cx="390.1" cy="276.6" r="0.71" fill="#2c4888" opacity="0.85"/>
<circle cx="404.4" cy="275.1" r="0.72" fill="#2c4888" opacity="0.85"/>
<circle cx="400.3" cy="275.0" r="0.53" fill="#2c4888" opacity="0.85"/>
<circle cx="387.8" cy="265.0" r="0.61" fill="#3a58a0" opacity="0.85"/>
<circle cx="413.9" cy="273.7" r="0.67" fill="#5070b0" opacity="0.85"/>
<circle cx="412.4" cy="268.5" r="0.54" fill="#5070b0" opacity="0.85"/>
<circle cx="400.5" cy="263.7" r="0.48" fill="#2c4888" opacity="0.85"/>
<circle cx="402.3" cy="286.7" r="0.62" fill="#2c4888" opacity="0.85"/>
<circle cx="411.9" cy="285.4" r="0.72" fill="#3a58a0" opacity="0.85"/>
<circle cx="393.5" cy="274.9" r="0.80" fill="#3a58a0" opacity="0.85"/>
<circle cx="392.9" cy="267.9" r="0.48" fill="#2c4888" opacity="0.85"/>
<circle cx="399.0" cy="267.6" r="0.83" fill="#2c4888" opacity="0.85"/>
<circle cx="400.8" cy="281.6" r="0.50" fill="#3a58a0" opacity="0.85"/>
<circle cx="411.2" cy="274.1" r="0.80" fill="#5070b0" opacity="0.85"/>
<circle cx="389.0" cy="273.6" r="0.72" fill="#5070b0" opacity="0.85"/>
<circle cx="410.4" cy="285.4" r="0.74" fill="#3a58a0" opacity="0.85"/>
<circle cx="401.4" cy="278.5" r="0.60" fill="#5070b0" opacity="0.85"/>
<circle cx="406.1" cy="263.0" r="0.59" fill="#5070b0" opacity="0.85"/>
<circle cx="409.0" cy="283.2" r="0.60" fill="#5070b0" opacity="0.85"/>
<circle cx="397.4" cy="268.7" r="0.61" fill="#3a58a0" opacity="0.85"/>
<circle cx="403.7" cy="280.8" r="0.82" fill="#3a58a0" opacity="0.85"/>
<circle cx="396.6" cy="263.1" r="0.76" fill="#2c4888" opacity="0.85"/>
<circle cx="399.0" cy="275.1" r="0.81" fill="#2c4888" opacity="0.85"/>
<circle cx="407.2" cy="272.7" r="0.53" fill="#3a58a0" opacity="0.85"/>
<circle cx="398.1" cy="276.1" r="0.60" fill="#5070b0" opacity="0.85"/>
<circle cx="413.6" cy="270.7" r="0.61" fill="#5070b0" opacity="0.85"/>
<circle cx="410.5" cy="269.8" r="0.58" fill="#3a58a0" opacity="0.85"/>
<circle cx="411.8" cy="285.2" r="0.47" fill="#5070b0" opacity="0.85"/>
<circle cx="396.2" cy="264.2" r="0.65" fill="#5070b0" opacity="0.85"/>
<circle cx="389.5" cy="265.7" r="0.58" fill="#2c4888" opacity="0.85"/>
<circle cx="400.7" cy="279.0" r="0.64" fill="#5070b0" opacity="0.85"/>
<circle cx="399.3" cy="281.8" r="0.82" fill="#2c4888" opacity="0.85"/>
<circle cx="412.3" cy="262.7" r="0.77" fill="#2c4888" opacity="0.85"/>
<circle cx="392.4" cy="272.4" r="0.51" fill="#3a58a0" opacity="0.85"/>
<circle cx="406.8" cy="276.4" r="0.73" fill="#3a58a0" opacity="0.85"/>
<circle cx="410.7" cy="283.6" r="0.67" fill="#5070b0" opacity="0.85"/>
<circle cx="406.2" cy="284.3" r="0.50" fill="#2c4888" opacity="0.85"/>
<circle cx="393.1" cy="286.7" r="0.52" fill="#2c4888" opacity="0.85"/>
<circle cx="414.5" cy="270.0" r="0.73" fill="#3a58a0" opacity="0.85"/>
<circle cx="404.1" cy="279.7" r="0.51" fill="#5070b0" opacity="0.85"/>
<circle cx="395.0" cy="277.5" r="0.74" fill="#5070b0" opacity="0.85"/>
<circle cx="407.1" cy="269.9" r="0.46" fill="#5070b0" opacity="0.85"/>
<circle cx="405.4" cy="273.8" r="0.67" fill="#2c4888" opacity="0.85"/>
<circle cx="393.6" cy="281.6" r="0.77" fill="#3a58a0" opacity="0.85"/>
<circle cx="403.3" cy="277.0" r="0.84" fill="#2c4888" opacity="0.85"/>
<circle cx="390.0" cy="271.0" r="0.50" fill="#5070b0" opacity="0.85"/>
<circle cx="388.0" cy="277.0" r="0.58" fill="#2c4888" opacity="0.85"/>
<circle cx="403.1" cy="265.1" r="0.83" fill="#2c4888" opacity="0.85"/>
<circle cx="409.1" cy="277.7" r="0.53" fill="#2c4888" opacity="0.85"/>
<circle cx="406.9" cy="274.4" r="0.81" fill="#3a58a0" opacity="0.85"/>
<circle cx="396.8" cy="265.2" r="0.78" fill="#2c4888" opacity="0.85"/>
<circle cx="393.6" cy="263.3" r="0.49" fill="#5070b0" opacity="0.85"/>
<circle cx="408.3" cy="267.4" r="0.72" fill="#2c4888" opacity="0.85"/>
<circle cx="389.1" cy="280.7" r="0.49" fill="#2c4888" opacity="0.85"/>
<circle cx="409.1" cy="276.7" r="0.84" fill="#3a58a0" opacity="0.85"/>
<circle cx="403.3" cy="284.3" r="0.65" fill="#5070b0" opacity="0.85"/>
<circle cx="395.5" cy="267.8" r="0.67" fill="#2c4888" opacity="0.85"/>
<circle cx="397.3" cy="278.3" r="0.79" fill="#3a58a0" opacity="0.85"/>
<circle cx="405.2" cy="277.7" r="0.61" fill="#5070b0" opacity="0.85"/>
<circle cx="390.8" cy="262.8" r="0.75" fill="#5070b0" opacity="0.85"/>
<circle cx="391.8" cy="271.0" r="0.72" fill="#2c4888" opacity="0.85"/>
<circle cx="400.4" cy="272.5" r="0.54" fill="#5070b0" opacity="0.85"/>
<circle cx="400.3" cy="285.5" r="0.84" fill="#3a58a0" opacity="0.85"/>
<circle cx="411.9" cy="262.7" r="0.66" fill="#2c4888" opacity="0.85"/>
<circle cx="411.6" cy="266.8" r="0.77" fill="#2c4888" opacity="0.85"/>
<circle cx="399.5" cy="265.5" r="0.58" fill="#2c4888" opacity="0.85"/>
<circle cx="398.5" cy="264.0" r="0.56" fill="#3a58a0" opacity="0.85"/>
<circle cx="390.5" cy="279.1" r="0.48" fill="#2c4888" opacity="0.85"/>
<circle cx="391.1" cy="266.8" r="0.83" fill="#5070b0" opacity="0.85"/>
<circle cx="399.2" cy="282.9" r="0.60" fill="#2c4888" opacity="0.85"/>
<circle cx="397.3" cy="286.6" r="0.53" fill="#2c4888" opacity="0.85"/>
<circle cx="411.7" cy="279.0" r="0.56" fill="#2c4888" opacity="0.85"/>
<circle cx="398.6" cy="282.2" r="0.60" fill="#2c4888" opacity="0.85"/>
<circle cx="396.0" cy="265.2" r="0.69" fill="#3a58a0" opacity="0.85"/>
<circle cx="392.7" cy="277.8" r="0.47" fill="#3a58a0" opacity="0.85"/>
<circle cx="405.9" cy="281.6" r="0.65" fill="#5070b0" opacity="0.85"/>
<circle cx="389.1" cy="276.0" r="0.72" fill="#5070b0" opacity="0.85"/>
<circle cx="391.9" cy="282.2" r="0.47" fill="#2c4888" opacity="0.85"/>
<circle cx="388.8" cy="262.5" r="0.58" fill="#3a58a0" opacity="0.85"/>
<circle cx="410.1" cy="273.8" r="0.81" fill="#3a58a0" opacity="0.85"/>
<circle cx="402.0" cy="267.9" r="0.63" fill="#3a58a0" opacity="0.85"/>
<circle cx="406.6" cy="271.4" r="0.50" fill="#3a58a0" opacity="0.85"/>
<circle cx="406.9" cy="273.8" r="0.56" fill="#5070b0" opacity="0.85"/>
<circle cx="414.1" cy="276.1" r="0.69" fill="#3a58a0" opacity="0.85"/>
<circle cx="414.6" cy="286.5" r="0.52" fill="#3a58a0" opacity="0.85"/>
<circle cx="390.5" cy="276.8" r="0.70" fill="#3a58a0" opacity="0.85"/>
<circle cx="406.2" cy="268.8" r="0.69" fill="#3a58a0" opacity="0.85"/>
<circle cx="387.4" cy="262.5" r="0.75" fill="#3a58a0" opacity="0.85"/>
<circle cx="391.0" cy="284.9" r="0.55" fill="#5070b0" opacity="0.85"/>
<circle cx="402.0" cy="279.3" r="0.56" fill="#3a58a0" opacity="0.85"/>
<circle cx="397.1" cy="282.9" r="0.84" fill="#2c4888" opacity="0.85"/>
<circle cx="397.4" cy="281.1" r="0.74" fill="#5070b0" opacity="0.85"/>
<circle cx="394.0" cy="270.4" r="0.52" fill="#2c4888" opacity="0.85"/>
<circle cx="413.5" cy="275.7" r="0.85" fill="#3a58a0" opacity="0.85"/>
<circle cx="414.2" cy="284.7" r="0.84" fill="#3a58a0" opacity="0.85"/>
<circle cx="401.6" cy="268.4" r="0.76" fill="#5070b0" opacity="0.85"/>
<circle cx="388.6" cy="273.0" r="0.79" fill="#3a58a0" opacity="0.85"/>
<circle cx="405.5" cy="283.7" r="0.76" fill="#3a58a0" opacity="0.85"/>
<circle cx="400.0" cy="275.5" r="0.55" fill="#2c4888" opacity="0.85"/>
<circle cx="397.3" cy="284.1" r="0.73" fill="#5070b0" opacity="0.85"/>
<circle cx="413.5" cy="263.1" r="0.59" fill="#3a58a0" opacity="0.85"/>
<circle cx="397.4" cy="276.6" r="0.45" fill="#5070b0" opacity="0.85"/>
<circle cx="407.5" cy="276.4" r="0.58" fill="#2c4888" opacity="0.85"/>
<circle cx="406.2" cy="277.1" r="0.85" fill="#5070b0" opacity="0.85"/>
<circle cx="406.8" cy="271.7" r="0.76" fill="#3a58a0" opacity="0.85"/>
<circle cx="403.8" cy="269.7" r="0.72" fill="#5070b0" opacity="0.85"/>
<circle cx="410.1" cy="267.3" r="0.62" fill="#5070b0" opacity="0.85"/>
<circle cx="413.6" cy="263.1" r="0.48" fill="#5070b0" opacity="0.85"/>
<circle cx="399.0" cy="271.2" r="0.85" fill="#3a58a0" opacity="0.85"/>
<circle cx="379.5" cy="297.0" r="0.50" fill="#3a58a0" opacity="0.85"/>
<circle cx="427.5" cy="294.9" r="0.48" fill="#5070b0" opacity="0.85"/>
<circle cx="408.1" cy="295.6" r="0.78" fill="#2c4888" opacity="0.85"/>
<circle cx="407.3" cy="297.1" r="0.68" fill="#5070b0" opacity="0.85"/>
<circle cx="408.8" cy="295.4" r="0.56" fill="#5070b0" opacity="0.85"/>
<circle cx="398.0" cy="303.6" r="0.70" fill="#3a58a0" opacity="0.85"/>
<circle cx="381.1" cy="305.7" r="0.60" fill="#3a58a0" opacity="0.85"/>
<circle cx="401.7" cy="297.2" r="0.52" fill="#5070b0" opacity="0.85"/>
<circle cx="397.1" cy="305.1" r="0.69" fill="#5070b0" opacity="0.85"/>
<circle cx="412.1" cy="295.0" r="0.58" fill="#2c4888" opacity="0.85"/>
<circle cx="395.6" cy="294.8" r="0.71" fill="#2c4888" opacity="0.85"/>
<circle cx="423.4" cy="301.2" r="0.60" fill="#2c4888" opacity="0.85"/>
<circle cx="422.5" cy="297.5" r="0.46" fill="#2c4888" opacity="0.85"/>
<circle cx="401.3" cy="296.4" r="0.63" fill="#3a58a0" opacity="0.85"/>
<circle cx="409.3" cy="297.9" r="0.55" fill="#2c4888" opacity="0.85"/>
<circle cx="398.3" cy="294.1" r="0.51" fill="#3a58a0" opacity="0.85"/>
<circle cx="396.4" cy="301.5" r="0.80" fill="#5070b0" opacity="0.85"/>
<circle cx="422.8" cy="295.8" r="0.80" fill="#5070b0" opacity="0.85"/>
<circle cx="387.4" cy="297.0" r="0.82" fill="#3a58a0" opacity="0.85"/>
<circle cx="412.6" cy="296.1" r="0.62" fill="#2c4888" opacity="0.85"/>
<circle cx="398.8" cy="296.9" r="0.52" fill="#2c4888" opacity="0.85"/>
<circle cx="376.1" cy="295.7" r="0.75" fill="#5070b0" opacity="0.85"/>
<circle cx="406.5" cy="294.0" r="0.57" fill="#3a58a0" opacity="0.85"/>
<circle cx="420.8" cy="305.6" r="0.70" fill="#2c4888" opacity="0.85"/>
<circle cx="407.9" cy="303.3" r="0.45" fill="#2c4888" opacity="0.85"/>
<circle cx="398.3" cy="302.5" r="0.51" fill="#3a58a0" opacity="0.85"/>
<circle cx="413.5" cy="299.5" r="0.58" fill="#3a58a0" opacity="0.85"/>
<circle cx="377.5" cy="302.4" r="0.85" fill="#2c4888" opacity="0.85"/>
<circle cx="424.9" cy="296.3" r="0.72" fill="#5070b0" opacity="0.85"/>
<circle cx="401.5" cy="294.9" r="0.51" fill="#5070b0" opacity="0.85"/>
<circle cx="413.0" cy="305.2" r="0.51" fill="#3a58a0" opacity="0.85"/>
<circle cx="378.5" cy="297.1" r="0.80" fill="#3a58a0" opacity="0.85"/>
<circle cx="386.8" cy="303.2" r="0.76" fill="#2c4888" opacity="0.85"/>
<circle cx="400.1" cy="303.8" r="0.48" fill="#5070b0" opacity="0.85"/>
<circle cx="390.9" cy="296.9" r="0.45" fill="#3a58a0" opacity="0.85"/>
<circle cx="375.6" cy="304.1" r="0.56" fill="#2c4888" opacity="0.85"/>
<circle cx="425.7" cy="294.8" r="0.70" fill="#5070b0" opacity="0.85"/>
<circle cx="386.3" cy="295.0" r="0.67" fill="#2c4888" opacity="0.85"/>
<circle cx="408.7" cy="304.7" r="0.55" fill="#5070b0" opacity="0.85"/>
<circle cx="395.5" cy="296.2" r="0.77" fill="#2c4888" opacity="0.85"/>
<circle cx="421.0" cy="305.0" r="0.53" fill="#2c4888" opacity="0.85"/>
<circle cx="411.1" cy="305.8" r="0.58" fill="#2c4888" opacity="0.85"/>
<circle cx="397.7" cy="304.1" r="0.51" fill="#5070b0" opacity="0.85"/>
<circle cx="427.1" cy="302.4" r="0.56" fill="#2c4888" opacity="0.85"/>
<circle cx="427.8" cy="300.8" r="0.53" fill="#3a58a0" opacity="0.85"/>
<circle cx="394.7" cy="303.4" r="0.61" fill="#5070b0" opacity="0.85"/>
<circle cx="422.3" cy="294.2" r="0.58" fill="#3a58a0" opacity="0.85"/>
<circle cx="422.1" cy="305.9" r="0.62" fill="#3a58a0" opacity="0.85"/>
<circle cx="392.6" cy="298.7" r="0.55" fill="#2c4888" opacity="0.85"/>
<circle cx="390.8" cy="300.0" r="0.50" fill="#3a58a0" opacity="0.85"/>
<path d="M392.5,290 C396,287.5 404,286 409,284 C413,282.5 415.5,279 416.5,275 C417.5,271 419.5,269.5 422,270.5 C425,272 424.8,278 422.5,283 C420,288 417,292 414,297 C411.5,301 407,303.2 403,303.2 C398.5,303.2 395,300.5 393.5,296.8 C392.5,294 391.5,291.5 392.5,290 Z" fill="#fdfaf4" stroke="#d68a3c" stroke-width="3.2" stroke-opacity="0.75"/>
<path d="M392.5,290 C396,287.5 404,286 409,284 C413,282.5 415.5,279 416.5,275 C417.5,271 419.5,269.5 422,270.5 C425,272 424.8,278 422.5,283 C420,288 417,292 414,297 C411.5,301 407,303.2 403,303.2 C398.5,303.2 395,300.5 393.5,296.8 C392.5,294 391.5,291.5 392.5,290 Z" fill="none" stroke="#5a2206" stroke-width="1.2"/>
<path d="M416,285 C414,292 410,299 404,302.5" fill="none" stroke="#e8a860" stroke-width="1.4" opacity="0.8"/>
<ellipse cx="382.8" cy="279.0" rx="3.8" ry="8.4" transform="rotate(22 382.8 279.0)" fill="#fdfaf4" stroke="#d68a3c" stroke-width="2.8" stroke-opacity="0.75"/>
<ellipse cx="382.8" cy="279.0" rx="3.8" ry="8.4" transform="rotate(22 382.8 279.0)" fill="none" stroke="#5a2206" stroke-width="1.1"/>
<ellipse cx="381.8" cy="291.6" rx="3.4" ry="2.9" fill="#fdfaf4" stroke="#5a2206" stroke-width="1.6"/>
<path d="M385.2,292 C387,292.5 389.5,291.8 391.8,291.2" fill="none" stroke="#5a2206" stroke-width="1.6"/>
<circle cx="405.6" cy="262.8" r="2.8" fill="#fdfaf4" stroke="#d89a5a" stroke-width="0.8"/>
<circle cx="426.5" cy="281.5" r="2.2" fill="#fdfaf4" stroke="#d07a34" stroke-width="1.2"/>
<path d="M424.4,283.6 C422,288 419,294 417,300" fill="none" stroke="#d08040" stroke-width="1.2"/>
<circle cx="404" cy="292" r="0.6" fill="#d9a08a"/><circle cx="409" cy="289" r="0.6" fill="#d9a08a"/><circle cx="401" cy="297" r="0.6" fill="#d9a08a"/>
</g>
<rect x="373.8" y="259.8" width="55.7" height="46.6" fill="none" stroke="#333" stroke-width="0.8"/>
<line x1="415" y1="301.9" x2="425.3" y2="301.9" stroke="#e8202a" stroke-width="1.3"/>
<rect x="337.2" y="224.5" width="13.3" height="11.6" fill="none" stroke="#111" stroke-width="0.9"/>
<rect x="398.1" y="224.3" width="12.8" height="11.7" fill="none" stroke="#111" stroke-width="0.9"/>
<line x1="337.2" y1="236.1" x2="313.8" y2="259.6" stroke="#222" stroke-width="0.6"/>
<line x1="350.5" y1="236.1" x2="369.6" y2="259.6" stroke="#222" stroke-width="0.6"/>
<line x1="398.1" y1="236" x2="374" y2="259.6" stroke="#222" stroke-width="0.6"/>
<line x1="410.9" y1="236" x2="429.3" y2="259.6" stroke="#222" stroke-width="0.6"/>
</svg></body></html>
